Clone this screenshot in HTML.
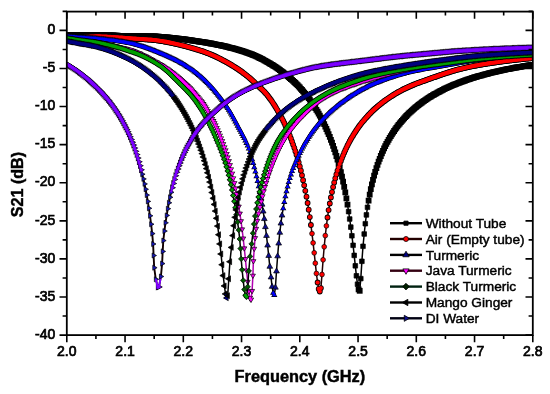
<!DOCTYPE html>
<html><head><meta charset="utf-8"><title>S21 vs Frequency</title><style>
html,body{margin:0;padding:0;background:#fff}
body{width:550px;height:394px;overflow:hidden}
svg{display:block}
text{font-family:"Liberation Sans",Arial,sans-serif;fill:#000}
.tl text{font-size:14px;stroke:#000;stroke-width:0.7}
.lg text{font-size:13.7px;stroke:#000;stroke-width:0.45}
.at{font-size:15.5px;font-weight:bold;stroke:#000;stroke-width:0.45}
</style></head><body>
<svg width="550" height="394" viewBox="0 0 550 394">
<g transform="translate(0 0.6)">
<defs><marker id="oWT" markerUnits="userSpaceOnUse" markerWidth="8" markerHeight="8" refX="4" refY="4" overflow="visible"><path d="M1.10 1.10h5.80v5.80h-5.80Z" fill="#000"/></marker>
<marker id="sWT" markerUnits="userSpaceOnUse" markerWidth="8" markerHeight="8" refX="4" refY="4" overflow="visible"><path d="M1.70 1.70h4.60v4.60h-4.60Z" fill="#000" stroke="#000" stroke-width="0.7"/></marker>
<marker id="oAIR" markerUnits="userSpaceOnUse" markerWidth="8" markerHeight="8" refX="4" refY="4" overflow="visible"><path d="M1.10 4a2.90 2.90 0 1 0 5.80 0a2.90 2.90 0 1 0 -5.80 0Z" fill="#000"/></marker>
<marker id="iAIR" markerUnits="userSpaceOnUse" markerWidth="8" markerHeight="8" refX="4" refY="4" overflow="visible"><path d="M1.90 4a2.10 2.10 0 1 0 4.20 0a2.10 2.10 0 1 0 -4.20 0Z" fill="#f00"/></marker>
<marker id="sAIR" markerUnits="userSpaceOnUse" markerWidth="8" markerHeight="8" refX="4" refY="4" overflow="visible"><path d="M1.60 4a2.40 2.40 0 1 0 4.80 0a2.40 2.40 0 1 0 -4.80 0Z" fill="#f00" stroke="#000" stroke-width="0.7"/></marker>
<marker id="oTUR" markerUnits="userSpaceOnUse" markerWidth="8" markerHeight="8" refX="4" refY="4" overflow="visible"><path d="M4.00 0.40L7.12 5.80L0.88 5.80Z" fill="#000"/></marker>
<marker id="iTUR" markerUnits="userSpaceOnUse" markerWidth="8" markerHeight="8" refX="4" refY="4" overflow="visible"><path d="M4.00 1.50L6.17 5.25L1.83 5.25Z" fill="#00f"/></marker>
<marker id="sTUR" markerUnits="userSpaceOnUse" markerWidth="8" markerHeight="8" refX="4" refY="4" overflow="visible"><path d="M4.00 0.70L6.86 5.65L1.14 5.65Z" fill="#0c0c90" stroke="#000" stroke-width="0.7"/></marker>
<marker id="oJAVA" markerUnits="userSpaceOnUse" markerWidth="8" markerHeight="8" refX="4" refY="4" overflow="visible"><path d="M4.00 7.60L0.88 2.20L7.12 2.20Z" fill="#000"/></marker>
<marker id="iJAVA" markerUnits="userSpaceOnUse" markerWidth="8" markerHeight="8" refX="4" refY="4" overflow="visible"><path d="M4.00 6.50L1.83 2.75L6.17 2.75Z" fill="#f0f"/></marker>
<marker id="sJAVA" markerUnits="userSpaceOnUse" markerWidth="8" markerHeight="8" refX="4" refY="4" overflow="visible"><path d="M4.00 6.90L1.49 2.55L6.51 2.55Z" fill="#f000f0" stroke="#000" stroke-width="0.7"/></marker>
<marker id="oBT" markerUnits="userSpaceOnUse" markerWidth="8" markerHeight="8" refX="4" refY="4" overflow="visible"><path d="M4 0.90L7.10 4L4 7.10L0.90 4Z" fill="#000"/></marker>
<marker id="iBT" markerUnits="userSpaceOnUse" markerWidth="8" markerHeight="8" refX="4" refY="4" overflow="visible"><path d="M4 1.90L6.10 4L4 6.10L1.90 4Z" fill="#00a000"/></marker>
<marker id="sBT" markerUnits="userSpaceOnUse" markerWidth="8" markerHeight="8" refX="4" refY="4" overflow="visible"><path d="M4 1.30L6.70 4L4 6.70L1.30 4Z" fill="#005a00" stroke="#000" stroke-width="0.7"/></marker>
<marker id="oMG" markerUnits="userSpaceOnUse" markerWidth="8" markerHeight="8" refX="4" refY="4" overflow="visible"><path d="M0.20 4.00L5.90 0.71L5.90 7.29Z" fill="#000"/></marker>
<marker id="iMG" markerUnits="userSpaceOnUse" markerWidth="8" markerHeight="8" refX="4" refY="4" overflow="visible"><path d="M1.40 4.00L5.30 1.75L5.30 6.25Z" fill="#000080"/></marker>
<marker id="sMG" markerUnits="userSpaceOnUse" markerWidth="8" markerHeight="8" refX="4" refY="4" overflow="visible"><path d="M0.60 4.00L5.70 1.06L5.70 6.94Z" fill="#000" stroke="#000" stroke-width="0.7"/></marker>
<marker id="oDI" markerUnits="userSpaceOnUse" markerWidth="8" markerHeight="8" refX="4" refY="4" overflow="visible"><path d="M7.90 4.00L2.05 7.38L2.05 0.62Z" fill="#000"/></marker>
<marker id="iDI" markerUnits="userSpaceOnUse" markerWidth="8" markerHeight="8" refX="4" refY="4" overflow="visible"><path d="M6.80 4.00L2.60 6.42L2.60 1.58Z" fill="#7000ff"/></marker>
<marker id="sDI" markerUnits="userSpaceOnUse" markerWidth="8" markerHeight="8" refX="4" refY="4" overflow="visible"><path d="M6.90 4.00L2.55 6.51L2.55 1.49Z" fill="#1818b8" stroke="#000" stroke-width="0.7"/></marker>
<marker id="lWT" markerUnits="userSpaceOnUse" markerWidth="8" markerHeight="8" refX="4" refY="4" overflow="visible"><path d="M1.90 1.90h4.20v4.20h-4.20Z" fill="#000" stroke="#000" stroke-width="0.8"/></marker>
<marker id="lAIR" markerUnits="userSpaceOnUse" markerWidth="8" markerHeight="8" refX="4" refY="4" overflow="visible"><path d="M1.50 4a2.50 2.50 0 1 0 5.00 0a2.50 2.50 0 1 0 -5.00 0Z" fill="#f00" stroke="#000" stroke-width="0.8"/></marker>
<marker id="lTUR" markerUnits="userSpaceOnUse" markerWidth="8" markerHeight="8" refX="4" refY="4" overflow="visible"><path d="M4.00 0.30L7.20 5.85L0.80 5.85Z" fill="#000080" stroke="#000" stroke-width="0.8"/></marker>
<marker id="lJAVA" markerUnits="userSpaceOnUse" markerWidth="8" markerHeight="8" refX="4" refY="4" overflow="visible"><path d="M4.00 7.60L0.88 2.20L7.12 2.20Z" fill="#f0f" stroke="#000" stroke-width="0.8"/></marker>
<marker id="lBT" markerUnits="userSpaceOnUse" markerWidth="8" markerHeight="8" refX="4" refY="4" overflow="visible"><path d="M4 0.70L7.30 4L4 7.30L0.70 4Z" fill="#002000" stroke="#000" stroke-width="0.8"/></marker>
<marker id="lMG" markerUnits="userSpaceOnUse" markerWidth="8" markerHeight="8" refX="4" refY="4" overflow="visible"><path d="M0.30 4.00L5.85 0.80L5.85 7.20Z" fill="#000" stroke="#000" stroke-width="0.8"/></marker>
<marker id="lDI" markerUnits="userSpaceOnUse" markerWidth="8" markerHeight="8" refX="4" refY="4" overflow="visible"><path d="M7.50 4.00L2.25 7.03L2.25 0.97Z" fill="#10108a" stroke="#000" stroke-width="0.8"/></marker>

<clipPath id="pa"><rect x="66.8" y="11.0" width="465.99999999999994" height="323.5"/></clipPath>
</defs>
<g clip-path="url(#pa)">
<polyline points="66.8,34.3 67.9,34.3 69.0,34.3 70.1,34.4 71.2,34.4 72.3,34.4 73.5,34.5 74.6,34.5 75.7,34.5 76.8,34.5 77.9,34.5 79.0,34.5 80.1,34.5 81.2,34.5 82.3,34.5 83.4,34.5 84.6,34.5 85.7,34.5 86.8,34.5 87.9,34.5 89.0,34.5 90.1,34.5 91.2,34.5 92.3,34.5 93.4,34.5 94.5,34.5 95.6,34.5 96.8,34.5 97.9,34.5 99.0,34.5 100.1,34.5 101.2,34.6 102.3,34.6 103.4,34.6 104.5,34.6 105.6,34.7 106.7,34.7 107.9,34.7 109.0,34.8 110.1,34.8 111.2,34.9 112.3,34.9 113.4,34.9 114.5,35.0 115.6,35.0 116.7,35.1 117.8,35.1 118.9,35.2 120.1,35.2 121.2,35.2 122.3,35.3 123.4,35.3 124.5,35.4 125.6,35.4 126.7,35.5 127.8,35.5 128.9,35.6 130.0,35.6 131.2,35.6 132.3,35.6 133.4,35.6 134.5,35.6 135.6,35.6 136.7,35.6 137.8,35.6 138.9,35.6 140.0,35.6 141.1,35.6 142.2,35.6 143.4,35.6 144.5,35.6 145.6,35.6 146.7,35.7 147.8,35.7 148.9,35.7 150.0,35.7 151.1,35.8 152.2,35.8 153.3,35.8 154.5,35.9 155.6,35.9 156.7,36.0 157.8,36.1 158.9,36.1 160.0,36.2 161.1,36.3 162.2,36.4 163.3,36.5 164.4,36.6 165.5,36.7 166.7,36.8 167.8,36.9 168.9,37.0 170.0,37.1 171.1,37.2 172.2,37.3 173.3,37.4 174.4,37.6 175.5,37.7 176.6,37.8 177.8,38.0 178.9,38.1 180.0,38.2 181.1,38.4 182.2,38.5 183.3,38.6 184.4,38.8 185.5,38.9 186.6,39.1 187.7,39.2 188.8,39.4 190.0,39.6 191.1,39.7 192.2,39.9 193.3,40.0 194.4,40.2 195.5,40.4 196.6,40.5 197.7,40.7 198.8,40.9 199.9,41.0 201.1,41.2 202.2,41.4 203.3,41.6 204.4,41.7 205.5,41.9 206.6,42.1 207.7,42.3 208.8,42.5 209.9,42.7 211.0,42.9 212.1,43.1 213.3,43.3 214.4,43.5 215.5,43.7 216.6,44.0 217.7,44.2 218.8,44.4 219.9,44.6 221.0,44.9 222.1,45.1 223.2,45.4 224.4,45.6 225.5,45.9 226.6,46.1 227.7,46.4 228.8,46.7 229.9,47.0 231.0,47.2 232.1,47.5 233.2,47.8 234.3,48.1 235.4,48.4 236.6,48.7 237.7,49.1 238.8,49.4 239.9,49.7 241.0,50.1 242.1,50.4 243.2,50.8 244.3,51.1 245.4,51.5 246.5,51.9 247.7,52.3 248.8,52.7 249.9,53.1 251.0,53.5 252.1,53.9 253.2,54.4 254.3,54.8 255.4,55.3 256.5,55.8 257.6,56.3 258.7,56.9 259.9,57.4 261.0,58.0 262.1,58.6 263.2,59.1 264.3,59.7 265.4,60.3 266.5,61.0 267.6,61.6 268.7,62.2 269.8,62.9 271.0,63.5 272.1,64.2 273.2,64.9 274.3,65.6 275.4,66.3 276.5,67.1 277.6,67.8 278.7,68.6 279.8,69.4 280.9,70.2 282.0,71.0 283.2,71.9 284.3,72.7 285.4,73.6 286.5,74.5 287.6,75.5 288.7,76.4 289.8,77.4 290.9,78.4 292.0,79.3 293.1,80.3 294.3,81.4 295.4,82.4 296.5,83.5 297.6,84.6 298.7,85.8 299.8,86.9 300.9,88.2 302.0,89.4 303.1,90.7 304.2,92.0 305.3,93.3 306.5,94.7 307.6,96.1 308.7,97.6 309.8,99.1 310.9,100.7 312.0,102.3 313.1,103.9 314.2,105.6 315.3,107.4 316.4,109.2 317.6,111.0 318.7,113.0 319.8,115.0 320.9,117.0 322.0,119.1 323.1,121.3 324.2,123.6 325.3,126.0 326.4,128.4 327.5,130.9 328.6,133.6 329.8,136.3 330.9,139.2 332.0,142.1 333.1,145.2 334.2,148.5 335.3,151.8 336.4,155.4 337.5,159.1 338.6,163.0 339.7,167.1 340.9,171.5 342.0,176.1 343.1,181.0 344.2,186.2 345.3,191.7 346.4,197.7 347.5,204.1 348.6,211.0 349.7,218.4 350.8,226.5 351.9,235.2 353.1,244.7 354.2,254.8 355.3,265.2 356.4,275.2 357.5,283.6 358.6,288.8 359.7,290.2 360.8,278.0 361.9,260.7 363.0,245.7 364.2,233.4 365.3,223.1 366.4,214.3 367.5,206.7 368.6,200.0 369.7,194.0 370.8,188.6 371.9,183.7 373.0,179.2 374.1,175.0 375.2,171.2 376.4,167.6 377.5,164.3 378.6,161.1 379.7,158.2 380.8,155.4 381.9,152.7 383.0,150.2 384.1,147.8 385.2,145.5 386.3,143.3 387.5,141.3 388.6,139.3 389.7,137.3 390.8,135.5 391.9,133.7 393.0,132.0 394.1,130.4 395.2,128.8 396.3,127.2 397.4,125.7 398.5,124.3 399.7,122.9 400.8,121.6 401.9,120.2 403.0,119.0 404.1,117.7 405.2,116.5 406.3,115.4 407.4,114.2 408.5,113.1 409.6,112.1 410.8,111.0 411.9,110.0 413.0,109.0 414.1,108.0 415.2,107.1 416.3,106.2 417.4,105.3 418.5,104.4 419.6,103.5 420.7,102.7 421.8,101.9 423.0,101.1 424.1,100.3 425.2,99.5 426.3,98.8 427.4,98.0 428.5,97.3 429.6,96.6 430.7,95.9 431.8,95.2 432.9,94.6 434.1,93.9 435.2,93.3 436.3,92.7 437.4,92.1 438.5,91.5 439.6,90.9 440.7,90.3 441.8,89.7 442.9,89.2 444.0,88.6 445.1,88.1 446.3,87.6 447.4,87.0 448.5,86.5 449.6,86.0 450.7,85.5 451.8,85.1 452.9,84.6 454.0,84.1 455.1,83.7 456.2,83.2 457.4,82.8 458.5,82.3 459.6,81.9 460.7,81.5 461.8,81.1 462.9,80.7 464.0,80.3 465.1,79.9 466.2,79.5 467.3,79.1 468.4,78.7 469.6,78.4 470.7,78.0 471.8,77.6 472.9,77.3 474.0,76.9 475.1,76.6 476.2,76.3 477.3,75.9 478.4,75.6 479.5,75.3 480.7,75.0 481.8,74.7 482.9,74.3 484.0,74.0 485.1,73.8 486.2,73.5 487.3,73.2 488.4,72.9 489.5,72.6 490.6,72.3 491.7,72.1 492.9,71.8 494.0,71.5 495.1,71.3 496.2,71.0 497.3,70.7 498.4,70.5 499.5,70.2 500.6,70.0 501.7,69.8 502.8,69.5 504.0,69.3 505.1,69.1 506.2,68.8 507.3,68.6 508.4,68.4 509.5,68.2 510.6,68.0 511.7,67.8 512.8,67.5 513.9,67.3 515.0,67.1 516.2,66.9 517.3,66.7 518.4,66.5 519.5,66.3 520.6,66.2 521.7,66.0 522.8,65.8 523.9,65.6 525.0,65.4 526.1,65.2 527.3,65.1 528.4,64.9 529.5,64.7 530.6,64.6 531.7,64.4 532.8,64.2" fill="none" stroke="#000" stroke-width="1.5" stroke-linejoin="round"/>
<polyline points="66.8,34.3 67.9,34.3 69.0,34.3 70.1,34.4 71.2,34.4 72.3,34.4 73.5,34.5 74.6,34.5 75.7,34.5 76.8,34.5 77.9,34.5 79.0,34.5 80.1,34.5 81.2,34.5 82.3,34.5 83.4,34.5 84.6,34.5 85.7,34.5 86.8,34.5 87.9,34.5 89.0,34.5 90.1,34.5 91.2,34.5 92.3,34.5 93.4,34.5 94.5,34.5 95.6,34.5 96.8,34.5 97.9,34.5 99.0,34.5 100.1,34.5 101.2,34.6 102.3,34.6 103.4,34.6 104.5,34.6 105.6,34.7 106.7,34.7 107.9,34.7 109.0,34.8 110.1,34.8 111.2,34.9 112.3,34.9 113.4,34.9 114.5,35.0 115.6,35.0 116.7,35.1 117.8,35.1 118.9,35.2 120.1,35.2 121.2,35.2 122.3,35.3 123.4,35.3 124.5,35.4 125.6,35.4 126.7,35.5 127.8,35.5 128.9,35.6 130.0,35.6 131.2,35.6 132.3,35.6 133.4,35.6 134.5,35.6 135.6,35.6 136.7,35.6 137.8,35.6 138.9,35.6 140.0,35.6 141.1,35.6 142.2,35.6 143.4,35.6 144.5,35.6 145.6,35.6 146.7,35.7 147.8,35.7 148.9,35.7 150.0,35.7 151.1,35.8 152.2,35.8 153.3,35.8 154.5,35.9 155.6,35.9 156.7,36.0 157.8,36.1 158.9,36.1 160.0,36.2 161.1,36.3 162.2,36.4 163.3,36.5 164.4,36.6 165.5,36.7 166.7,36.8 167.8,36.9 168.9,37.0 170.0,37.1 171.1,37.2 172.2,37.3 173.3,37.4 174.4,37.6 175.5,37.7 176.6,37.8 177.8,38.0 178.9,38.1 180.0,38.2 181.1,38.4 182.2,38.5 183.3,38.6 184.4,38.8 185.5,38.9 186.6,39.1 187.7,39.2 188.8,39.4 190.0,39.6 191.1,39.7 192.2,39.9 193.3,40.0 194.4,40.2 195.5,40.4 196.6,40.5 197.7,40.7 198.8,40.9 199.9,41.0 201.1,41.2 202.2,41.4 203.3,41.6 204.4,41.7 205.5,41.9 206.6,42.1 207.7,42.3 208.8,42.5 209.9,42.7 211.0,42.9 212.1,43.1 213.3,43.3 214.4,43.5 215.5,43.7 216.6,44.0 217.7,44.2 218.8,44.4 219.9,44.6 221.0,44.9 222.1,45.1 223.2,45.4 224.4,45.6 225.5,45.9 226.6,46.1 227.7,46.4 228.8,46.7 229.9,47.0 231.0,47.2 232.1,47.5 233.2,47.8 234.3,48.1 235.4,48.4 236.6,48.7 237.7,49.1 238.8,49.4 239.9,49.7 241.0,50.1 242.1,50.4 243.2,50.8 244.3,51.1 245.4,51.5 246.5,51.9 247.7,52.3 248.8,52.7 249.9,53.1 251.0,53.5 252.1,53.9 253.2,54.4 254.3,54.8 255.4,55.3 256.5,55.8 257.6,56.3 258.7,56.9 259.9,57.4 261.0,58.0 262.1,58.6 263.2,59.1 264.3,59.7 265.4,60.3 266.5,61.0 267.6,61.6 268.7,62.2 269.8,62.9 271.0,63.5 272.1,64.2 273.2,64.9 274.3,65.6 275.4,66.3 276.5,67.1 277.6,67.8 278.7,68.6 279.8,69.4 280.9,70.2 282.0,71.0 283.2,71.9 284.3,72.7 285.4,73.6 286.5,74.5 287.6,75.5 288.7,76.4 289.8,77.4 290.9,78.4 292.0,79.3 293.1,80.3 294.3,81.4 295.4,82.4 296.5,83.5 297.6,84.6 298.7,85.8 299.8,86.9 300.9,88.2 302.0,89.4 303.1,90.7 304.2,92.0 305.3,93.3 306.5,94.7 307.6,96.1 308.7,97.6 309.8,99.1 310.9,100.7 312.0,102.3 313.1,103.9 314.2,105.6 315.3,107.4 316.4,109.2 317.6,111.0 318.7,113.0 319.8,115.0 320.9,117.0 322.0,119.1 323.1,121.3 324.2,123.6 325.3,126.0 326.4,128.4 327.5,130.9 328.6,133.6 329.8,136.3 330.9,139.2 332.0,142.1 333.1,145.2 334.2,148.5 335.3,151.8 336.4,155.4 337.5,159.1 338.6,163.0 339.7,167.1 340.9,171.5 342.0,176.1 343.1,181.0 344.2,186.2 345.3,191.7 346.4,197.7 347.5,204.1" fill="none" stroke="none" marker-start="url(#oWT)" marker-mid="url(#oWT)" marker-end="url(#oWT)"/>
<polyline points="348.6,211.0 349.7,218.4 350.8,226.5 351.9,235.2 353.1,244.7 354.2,254.8 355.3,265.2 356.4,275.2 357.5,283.6" fill="none" stroke="none" marker-start="url(#sWT)" marker-mid="url(#sWT)" marker-end="url(#sWT)"/>
<polyline points="358.6,288.8 359.7,290.2" fill="none" stroke="none" marker-start="url(#oWT)" marker-mid="url(#oWT)" marker-end="url(#oWT)"/>
<polyline points="360.8,278.0 361.9,260.7 363.0,245.7 364.2,233.4 365.3,223.1 366.4,214.3 367.5,206.7" fill="none" stroke="none" marker-start="url(#sWT)" marker-mid="url(#sWT)" marker-end="url(#sWT)"/>
<polyline points="368.6,200.0 369.7,194.0 370.8,188.6 371.9,183.7 373.0,179.2 374.1,175.0 375.2,171.2 376.4,167.6 377.5,164.3 378.6,161.1 379.7,158.2 380.8,155.4 381.9,152.7 383.0,150.2 384.1,147.8 385.2,145.5 386.3,143.3 387.5,141.3 388.6,139.3 389.7,137.3 390.8,135.5 391.9,133.7 393.0,132.0 394.1,130.4 395.2,128.8 396.3,127.2 397.4,125.7 398.5,124.3 399.7,122.9 400.8,121.6 401.9,120.2 403.0,119.0 404.1,117.7 405.2,116.5 406.3,115.4 407.4,114.2 408.5,113.1 409.6,112.1 410.8,111.0 411.9,110.0 413.0,109.0 414.1,108.0 415.2,107.1 416.3,106.2 417.4,105.3 418.5,104.4 419.6,103.5 420.7,102.7 421.8,101.9 423.0,101.1 424.1,100.3 425.2,99.5 426.3,98.8 427.4,98.0 428.5,97.3 429.6,96.6 430.7,95.9 431.8,95.2 432.9,94.6 434.1,93.9 435.2,93.3 436.3,92.7 437.4,92.1 438.5,91.5 439.6,90.9 440.7,90.3 441.8,89.7 442.9,89.2 444.0,88.6 445.1,88.1 446.3,87.6 447.4,87.0 448.5,86.5 449.6,86.0 450.7,85.5 451.8,85.1 452.9,84.6 454.0,84.1 455.1,83.7 456.2,83.2 457.4,82.8 458.5,82.3 459.6,81.9 460.7,81.5 461.8,81.1 462.9,80.7 464.0,80.3 465.1,79.9 466.2,79.5 467.3,79.1 468.4,78.7 469.6,78.4 470.7,78.0 471.8,77.6 472.9,77.3 474.0,76.9 475.1,76.6 476.2,76.3 477.3,75.9 478.4,75.6 479.5,75.3 480.7,75.0 481.8,74.7 482.9,74.3 484.0,74.0 485.1,73.8 486.2,73.5 487.3,73.2 488.4,72.9 489.5,72.6 490.6,72.3 491.7,72.1 492.9,71.8 494.0,71.5 495.1,71.3 496.2,71.0 497.3,70.7 498.4,70.5 499.5,70.2 500.6,70.0 501.7,69.8 502.8,69.5 504.0,69.3 505.1,69.1 506.2,68.8 507.3,68.6 508.4,68.4 509.5,68.2 510.6,68.0 511.7,67.8 512.8,67.5 513.9,67.3 515.0,67.1 516.2,66.9 517.3,66.7 518.4,66.5 519.5,66.3 520.6,66.2 521.7,66.0 522.8,65.8 523.9,65.6 525.0,65.4 526.1,65.2 527.3,65.1 528.4,64.9 529.5,64.7 530.6,64.6 531.7,64.4 532.8,64.2" fill="none" stroke="none" marker-start="url(#oWT)" marker-mid="url(#oWT)" marker-end="url(#oWT)"/>
<polyline points="66.8,36.1 67.9,36.2 69.0,36.2 70.1,36.2 71.2,36.3 72.3,36.3 73.5,36.3 74.6,36.4 75.7,36.4 76.8,36.4 77.9,36.4 79.0,36.4 80.1,36.4 81.2,36.4 82.3,36.4 83.4,36.4 84.6,36.3 85.7,36.3 86.8,36.3 87.9,36.2 89.0,36.2 90.1,36.1 91.2,36.1 92.3,36.0 93.4,35.9 94.5,35.9 95.6,35.8 96.8,35.8 97.9,35.8 99.0,35.8 100.1,35.8 101.2,35.9 102.3,35.9 103.4,36.0 104.5,36.0 105.6,36.1 106.7,36.1 107.9,36.2 109.0,36.3 110.1,36.3 111.2,36.4 112.3,36.4 113.4,36.5 114.5,36.6 115.6,36.7 116.7,36.7 117.8,36.8 118.9,36.9 120.1,37.0 121.2,37.0 122.3,37.1 123.4,37.2 124.5,37.3 125.6,37.4 126.7,37.5 127.8,37.5 128.9,37.6 130.0,37.7 131.2,37.8 132.3,37.9 133.4,38.0 134.5,38.1 135.6,38.1 136.7,38.2 137.8,38.3 138.9,38.3 140.0,38.4 141.1,38.5 142.2,38.5 143.4,38.6 144.5,38.7 145.6,38.7 146.7,38.8 147.8,38.9 148.9,39.0 150.0,39.1 151.1,39.1 152.2,39.2 153.3,39.4 154.5,39.5 155.6,39.6 156.7,39.7 157.8,39.9 158.9,40.0 160.0,40.2 161.1,40.4 162.2,40.5 163.3,40.7 164.4,40.9 165.5,41.1 166.7,41.3 167.8,41.5 168.9,41.8 170.0,42.0 171.1,42.2 172.2,42.4 173.3,42.7 174.4,42.9 175.5,43.2 176.6,43.4 177.8,43.7 178.9,43.9 180.0,44.2 181.1,44.5 182.2,44.8 183.3,45.0 184.4,45.3 185.5,45.6 186.6,45.9 187.7,46.2 188.8,46.5 190.0,46.8 191.1,47.2 192.2,47.5 193.3,47.8 194.4,48.1 195.5,48.5 196.6,48.8 197.7,49.1 198.8,49.5 199.9,49.8 201.1,50.2 202.2,50.6 203.3,50.9 204.4,51.3 205.5,51.7 206.6,52.2 207.7,52.6 208.8,53.0 209.9,53.5 211.0,53.9 212.1,54.4 213.3,54.9 214.4,55.4 215.5,55.9 216.6,56.4 217.7,57.0 218.8,57.5 219.9,58.0 221.0,58.6 222.1,59.2 223.2,59.8 224.4,60.4 225.5,61.0 226.6,61.6 227.7,62.2 228.8,62.8 229.9,63.5 231.0,64.1 232.1,64.8 233.2,65.5 234.3,66.2 235.4,66.9 236.6,67.6 237.7,68.3 238.8,69.1 239.9,69.8 241.0,70.6 242.1,71.4 243.2,72.3 244.3,73.1 245.4,74.0 246.5,74.8 247.7,75.7 248.8,76.7 249.9,77.6 251.0,78.6 252.1,79.6 253.2,80.6 254.3,81.6 255.4,82.7 256.5,83.8 257.6,84.8 258.7,85.8 259.9,86.8 261.0,87.8 262.1,88.9 263.2,90.0 264.3,91.1 265.4,92.3 266.5,93.5 267.6,94.9 268.7,96.4 269.8,97.9 271.0,99.4 272.1,101.0 273.2,102.7 274.3,104.4 275.4,106.1 276.5,108.0 277.6,109.8 278.7,111.8 279.8,113.7 280.9,115.8 282.0,117.9 283.2,120.1 284.3,122.4 285.4,124.8 286.5,127.2 287.6,129.7 288.7,132.4 289.8,135.1 290.9,137.9 292.0,140.9 293.1,144.0 294.3,147.2 295.4,150.6 296.5,154.1 297.6,157.8 298.7,161.7 299.8,165.8 300.9,170.1 302.0,174.7 303.1,179.6 304.2,184.7 305.3,190.2 306.5,196.1 307.6,202.4 308.7,209.1 309.8,216.5 310.9,224.4 312.0,233.0 313.1,242.3 314.2,252.2 315.3,262.6 316.4,272.9 317.6,281.9 318.7,288.3 319.8,290.9 320.9,287.5 322.0,273.9 323.1,259.2 324.2,246.2 325.3,235.0 326.4,225.3 327.5,216.9 328.6,209.5 329.8,202.9 330.9,196.9 332.0,191.5 333.1,186.5 334.2,182.0 335.3,177.7 336.4,173.8 337.5,170.1 338.6,166.7 339.7,163.4 340.9,160.3 342.0,157.4 343.1,154.7 344.2,152.1 345.3,149.6 346.4,147.2 347.5,144.9 348.6,142.7 349.7,140.6 350.8,138.6 351.9,136.7 353.1,134.8 354.2,133.0 355.3,131.3 356.4,129.6 357.5,128.0 358.6,126.4 359.7,124.9 360.8,123.5 361.9,122.0 363.0,120.7 364.2,119.3 365.3,118.0 366.4,116.8 367.5,115.6 368.6,114.4 369.7,113.2 370.8,112.1 371.9,111.0 373.0,109.9 374.1,108.9 375.2,107.9 376.4,106.9 377.5,105.9 378.6,105.0 379.7,104.1 380.8,103.2 381.9,102.3 383.0,101.5 384.1,100.6 385.2,99.8 386.3,99.0 387.5,98.2 388.6,97.5 389.7,96.7 390.8,96.0 391.9,95.3 393.0,94.6 394.1,93.9 395.2,93.2 396.3,92.6 397.4,91.9 398.5,91.3 399.7,90.7 400.8,90.1 401.9,89.5 403.0,88.9 404.1,88.4 405.2,87.8 406.3,87.3 407.4,86.8 408.5,86.3 409.6,85.8 410.8,85.3 411.9,84.8 413.0,84.4 414.1,83.9 415.2,83.5 416.3,83.0 417.4,82.6 418.5,82.2 419.6,81.8 420.7,81.4 421.8,81.0 423.0,80.6 424.1,80.2 425.2,79.8 426.3,79.4 427.4,79.0 428.5,78.6 429.6,78.2 430.7,77.8 431.8,77.4 432.9,77.0 434.1,76.6 435.2,76.3 436.3,75.9 437.4,75.5 438.5,75.1 439.6,74.7 440.7,74.3 441.8,74.0 442.9,73.6 444.0,73.2 445.1,72.8 446.3,72.5 447.4,72.1 448.5,71.8 449.6,71.4 450.7,71.1 451.8,70.7 452.9,70.4 454.0,70.1 455.1,69.7 456.2,69.4 457.4,69.1 458.5,68.8 459.6,68.5 460.7,68.3 461.8,68.0 462.9,67.7 464.0,67.5 465.1,67.2 466.2,66.9 467.3,66.7 468.4,66.4 469.6,66.2 470.7,66.0 471.8,65.7 472.9,65.5 474.0,65.3 475.1,65.1 476.2,64.9 477.3,64.7 478.4,64.5 479.5,64.3 480.7,64.1 481.8,63.9 482.9,63.7 484.0,63.5 485.1,63.4 486.2,63.2 487.3,63.0 488.4,62.8 489.5,62.7 490.6,62.5 491.7,62.3 492.9,62.2 494.0,62.0 495.1,61.9 496.2,61.7 497.3,61.5 498.4,61.4 499.5,61.2 500.6,61.1 501.7,60.9 502.8,60.8 504.0,60.6 505.1,60.5 506.2,60.4 507.3,60.2 508.4,60.1 509.5,59.9 510.6,59.8 511.7,59.7 512.8,59.5 513.9,59.4 515.0,59.3 516.2,59.2 517.3,59.0 518.4,58.9 519.5,58.8 520.6,58.7 521.7,58.6 522.8,58.4 523.9,58.3 525.0,58.2 526.1,58.1 527.3,58.0 528.4,57.9 529.5,57.8 530.6,57.7 531.7,57.6 532.8,57.5" fill="none" stroke="#200" stroke-width="1.5" stroke-linejoin="round"/>
<polyline points="66.8,36.1 67.9,36.2 69.0,36.2 70.1,36.2 71.2,36.3 72.3,36.3 73.5,36.3 74.6,36.4 75.7,36.4 76.8,36.4 77.9,36.4 79.0,36.4 80.1,36.4 81.2,36.4 82.3,36.4 83.4,36.4 84.6,36.3 85.7,36.3 86.8,36.3 87.9,36.2 89.0,36.2 90.1,36.1 91.2,36.1 92.3,36.0 93.4,35.9 94.5,35.9 95.6,35.8 96.8,35.8 97.9,35.8 99.0,35.8 100.1,35.8 101.2,35.9 102.3,35.9 103.4,36.0 104.5,36.0 105.6,36.1 106.7,36.1 107.9,36.2 109.0,36.3 110.1,36.3 111.2,36.4 112.3,36.4 113.4,36.5 114.5,36.6 115.6,36.7 116.7,36.7 117.8,36.8 118.9,36.9 120.1,37.0 121.2,37.0 122.3,37.1 123.4,37.2 124.5,37.3 125.6,37.4 126.7,37.5 127.8,37.5 128.9,37.6 130.0,37.7 131.2,37.8 132.3,37.9 133.4,38.0 134.5,38.1 135.6,38.1 136.7,38.2 137.8,38.3 138.9,38.3 140.0,38.4 141.1,38.5 142.2,38.5 143.4,38.6 144.5,38.7 145.6,38.7 146.7,38.8 147.8,38.9 148.9,39.0 150.0,39.1 151.1,39.1 152.2,39.2 153.3,39.4 154.5,39.5 155.6,39.6 156.7,39.7 157.8,39.9 158.9,40.0 160.0,40.2 161.1,40.4 162.2,40.5 163.3,40.7 164.4,40.9 165.5,41.1 166.7,41.3 167.8,41.5 168.9,41.8 170.0,42.0 171.1,42.2 172.2,42.4 173.3,42.7 174.4,42.9 175.5,43.2 176.6,43.4 177.8,43.7 178.9,43.9 180.0,44.2 181.1,44.5 182.2,44.8 183.3,45.0 184.4,45.3 185.5,45.6 186.6,45.9 187.7,46.2 188.8,46.5 190.0,46.8 191.1,47.2 192.2,47.5 193.3,47.8 194.4,48.1 195.5,48.5 196.6,48.8 197.7,49.1 198.8,49.5 199.9,49.8 201.1,50.2 202.2,50.6 203.3,50.9 204.4,51.3 205.5,51.7 206.6,52.2 207.7,52.6 208.8,53.0 209.9,53.5 211.0,53.9 212.1,54.4 213.3,54.9 214.4,55.4 215.5,55.9 216.6,56.4 217.7,57.0 218.8,57.5 219.9,58.0 221.0,58.6 222.1,59.2 223.2,59.8 224.4,60.4 225.5,61.0 226.6,61.6 227.7,62.2 228.8,62.8 229.9,63.5 231.0,64.1 232.1,64.8 233.2,65.5 234.3,66.2 235.4,66.9 236.6,67.6 237.7,68.3 238.8,69.1 239.9,69.8 241.0,70.6 242.1,71.4 243.2,72.3 244.3,73.1 245.4,74.0 246.5,74.8 247.7,75.7 248.8,76.7 249.9,77.6 251.0,78.6 252.1,79.6 253.2,80.6 254.3,81.6 255.4,82.7 256.5,83.8 257.6,84.8 258.7,85.8 259.9,86.8 261.0,87.8 262.1,88.9 263.2,90.0 264.3,91.1 265.4,92.3 266.5,93.5 267.6,94.9 268.7,96.4 269.8,97.9 271.0,99.4 272.1,101.0 273.2,102.7 274.3,104.4 275.4,106.1 276.5,108.0 277.6,109.8 278.7,111.8 279.8,113.7 280.9,115.8 282.0,117.9 283.2,120.1 284.3,122.4 285.4,124.8 286.5,127.2 287.6,129.7 288.7,132.4 289.8,135.1 290.9,137.9 292.0,140.9 293.1,144.0 294.3,147.2 295.4,150.6 296.5,154.1 297.6,157.8 298.7,161.7 299.8,165.8 300.9,170.1 302.0,174.7 303.1,179.6 304.2,184.7 305.3,190.2 306.5,196.1 307.6,202.4 308.7,209.1 309.8,216.5 310.9,224.4" fill="none" stroke="none" marker-start="url(#oAIR)" marker-mid="url(#oAIR)" marker-end="url(#oAIR)"/>
<polyline points="66.8,36.1 67.9,36.2 69.0,36.2 70.1,36.2 71.2,36.3 72.3,36.3 73.5,36.3 74.6,36.4 75.7,36.4 76.8,36.4 77.9,36.4 79.0,36.4 80.1,36.4 81.2,36.4 82.3,36.4 83.4,36.4 84.6,36.3 85.7,36.3 86.8,36.3 87.9,36.2 89.0,36.2 90.1,36.1 91.2,36.1 92.3,36.0 93.4,35.9 94.5,35.9 95.6,35.8 96.8,35.8 97.9,35.8 99.0,35.8 100.1,35.8 101.2,35.9 102.3,35.9 103.4,36.0 104.5,36.0 105.6,36.1 106.7,36.1 107.9,36.2 109.0,36.3 110.1,36.3 111.2,36.4 112.3,36.4 113.4,36.5 114.5,36.6 115.6,36.7 116.7,36.7 117.8,36.8 118.9,36.9 120.1,37.0 121.2,37.0 122.3,37.1 123.4,37.2 124.5,37.3 125.6,37.4 126.7,37.5 127.8,37.5 128.9,37.6 130.0,37.7 131.2,37.8 132.3,37.9 133.4,38.0 134.5,38.1 135.6,38.1 136.7,38.2 137.8,38.3 138.9,38.3 140.0,38.4 141.1,38.5 142.2,38.5 143.4,38.6 144.5,38.7 145.6,38.7 146.7,38.8 147.8,38.9 148.9,39.0 150.0,39.1 151.1,39.1 152.2,39.2 153.3,39.4 154.5,39.5 155.6,39.6 156.7,39.7 157.8,39.9 158.9,40.0 160.0,40.2 161.1,40.4 162.2,40.5 163.3,40.7 164.4,40.9 165.5,41.1 166.7,41.3 167.8,41.5 168.9,41.8 170.0,42.0 171.1,42.2 172.2,42.4 173.3,42.7 174.4,42.9 175.5,43.2 176.6,43.4 177.8,43.7 178.9,43.9 180.0,44.2 181.1,44.5 182.2,44.8 183.3,45.0 184.4,45.3 185.5,45.6 186.6,45.9 187.7,46.2 188.8,46.5 190.0,46.8 191.1,47.2 192.2,47.5 193.3,47.8 194.4,48.1 195.5,48.5 196.6,48.8 197.7,49.1 198.8,49.5 199.9,49.8 201.1,50.2 202.2,50.6 203.3,50.9 204.4,51.3 205.5,51.7 206.6,52.2 207.7,52.6 208.8,53.0 209.9,53.5 211.0,53.9 212.1,54.4 213.3,54.9 214.4,55.4 215.5,55.9 216.6,56.4 217.7,57.0 218.8,57.5 219.9,58.0 221.0,58.6 222.1,59.2 223.2,59.8 224.4,60.4 225.5,61.0 226.6,61.6 227.7,62.2 228.8,62.8 229.9,63.5 231.0,64.1 232.1,64.8 233.2,65.5 234.3,66.2 235.4,66.9 236.6,67.6 237.7,68.3 238.8,69.1 239.9,69.8 241.0,70.6 242.1,71.4 243.2,72.3 244.3,73.1 245.4,74.0 246.5,74.8 247.7,75.7 248.8,76.7 249.9,77.6 251.0,78.6 252.1,79.6 253.2,80.6 254.3,81.6 255.4,82.7 256.5,83.8 257.6,84.8 258.7,85.8 259.9,86.8 261.0,87.8 262.1,88.9 263.2,90.0 264.3,91.1 265.4,92.3 266.5,93.5 267.6,94.9 268.7,96.4 269.8,97.9 271.0,99.4 272.1,101.0 273.2,102.7 274.3,104.4 275.4,106.1 276.5,108.0 277.6,109.8 278.7,111.8 279.8,113.7 280.9,115.8 282.0,117.9 283.2,120.1 284.3,122.4 285.4,124.8 286.5,127.2 287.6,129.7 288.7,132.4 289.8,135.1 290.9,137.9 292.0,140.9 293.1,144.0 294.3,147.2 295.4,150.6 296.5,154.1 297.6,157.8 298.7,161.7 299.8,165.8 300.9,170.1 302.0,174.7 303.1,179.6 304.2,184.7 305.3,190.2 306.5,196.1 307.6,202.4 308.7,209.1 309.8,216.5 310.9,224.4" fill="none" stroke="none" marker-start="url(#iAIR)" marker-mid="url(#iAIR)" marker-end="url(#iAIR)"/>
<polyline points="312.0,233.0 313.1,242.3 314.2,252.2 315.3,262.6 316.4,272.9" fill="none" stroke="none" marker-start="url(#sAIR)" marker-mid="url(#sAIR)" marker-end="url(#sAIR)"/>
<polyline points="317.6,281.9 318.7,288.3 319.8,290.9 320.9,287.5" fill="none" stroke="none" marker-start="url(#oAIR)" marker-mid="url(#oAIR)" marker-end="url(#oAIR)"/>
<polyline points="317.6,281.9 318.7,288.3 319.8,290.9 320.9,287.5" fill="none" stroke="none" marker-start="url(#iAIR)" marker-mid="url(#iAIR)" marker-end="url(#iAIR)"/>
<polyline points="322.0,273.9 323.1,259.2 324.2,246.2 325.3,235.0 326.4,225.3" fill="none" stroke="none" marker-start="url(#sAIR)" marker-mid="url(#sAIR)" marker-end="url(#sAIR)"/>
<polyline points="327.5,216.9 328.6,209.5 329.8,202.9 330.9,196.9 332.0,191.5 333.1,186.5 334.2,182.0 335.3,177.7 336.4,173.8 337.5,170.1 338.6,166.7 339.7,163.4 340.9,160.3 342.0,157.4 343.1,154.7 344.2,152.1 345.3,149.6 346.4,147.2 347.5,144.9 348.6,142.7 349.7,140.6 350.8,138.6 351.9,136.7 353.1,134.8 354.2,133.0 355.3,131.3 356.4,129.6 357.5,128.0 358.6,126.4 359.7,124.9 360.8,123.5 361.9,122.0 363.0,120.7 364.2,119.3 365.3,118.0 366.4,116.8 367.5,115.6 368.6,114.4 369.7,113.2 370.8,112.1 371.9,111.0 373.0,109.9 374.1,108.9 375.2,107.9 376.4,106.9 377.5,105.9 378.6,105.0 379.7,104.1 380.8,103.2 381.9,102.3 383.0,101.5 384.1,100.6 385.2,99.8 386.3,99.0 387.5,98.2 388.6,97.5 389.7,96.7 390.8,96.0 391.9,95.3 393.0,94.6 394.1,93.9 395.2,93.2 396.3,92.6 397.4,91.9 398.5,91.3 399.7,90.7 400.8,90.1 401.9,89.5 403.0,88.9 404.1,88.4 405.2,87.8 406.3,87.3 407.4,86.8 408.5,86.3 409.6,85.8 410.8,85.3 411.9,84.8 413.0,84.4 414.1,83.9 415.2,83.5 416.3,83.0 417.4,82.6 418.5,82.2 419.6,81.8 420.7,81.4 421.8,81.0 423.0,80.6 424.1,80.2 425.2,79.8 426.3,79.4 427.4,79.0 428.5,78.6 429.6,78.2 430.7,77.8 431.8,77.4 432.9,77.0 434.1,76.6 435.2,76.3 436.3,75.9 437.4,75.5 438.5,75.1 439.6,74.7 440.7,74.3 441.8,74.0 442.9,73.6 444.0,73.2 445.1,72.8 446.3,72.5 447.4,72.1 448.5,71.8 449.6,71.4 450.7,71.1 451.8,70.7 452.9,70.4 454.0,70.1 455.1,69.7 456.2,69.4 457.4,69.1 458.5,68.8 459.6,68.5 460.7,68.3 461.8,68.0 462.9,67.7 464.0,67.5 465.1,67.2 466.2,66.9 467.3,66.7 468.4,66.4 469.6,66.2 470.7,66.0 471.8,65.7 472.9,65.5 474.0,65.3 475.1,65.1 476.2,64.9 477.3,64.7 478.4,64.5 479.5,64.3 480.7,64.1 481.8,63.9 482.9,63.7 484.0,63.5 485.1,63.4 486.2,63.2 487.3,63.0 488.4,62.8 489.5,62.7 490.6,62.5 491.7,62.3 492.9,62.2 494.0,62.0 495.1,61.9 496.2,61.7 497.3,61.5 498.4,61.4 499.5,61.2 500.6,61.1 501.7,60.9 502.8,60.8 504.0,60.6 505.1,60.5 506.2,60.4 507.3,60.2 508.4,60.1 509.5,59.9 510.6,59.8 511.7,59.7 512.8,59.5 513.9,59.4 515.0,59.3 516.2,59.2 517.3,59.0 518.4,58.9 519.5,58.8 520.6,58.7 521.7,58.6 522.8,58.4 523.9,58.3 525.0,58.2 526.1,58.1 527.3,58.0 528.4,57.9 529.5,57.8 530.6,57.7 531.7,57.6 532.8,57.5" fill="none" stroke="none" marker-start="url(#oAIR)" marker-mid="url(#oAIR)" marker-end="url(#oAIR)"/>
<polyline points="327.5,216.9 328.6,209.5 329.8,202.9 330.9,196.9 332.0,191.5 333.1,186.5 334.2,182.0 335.3,177.7 336.4,173.8 337.5,170.1 338.6,166.7 339.7,163.4 340.9,160.3 342.0,157.4 343.1,154.7 344.2,152.1 345.3,149.6 346.4,147.2 347.5,144.9 348.6,142.7 349.7,140.6 350.8,138.6 351.9,136.7 353.1,134.8 354.2,133.0 355.3,131.3 356.4,129.6 357.5,128.0 358.6,126.4 359.7,124.9 360.8,123.5 361.9,122.0 363.0,120.7 364.2,119.3 365.3,118.0 366.4,116.8 367.5,115.6 368.6,114.4 369.7,113.2 370.8,112.1 371.9,111.0 373.0,109.9 374.1,108.9 375.2,107.9 376.4,106.9 377.5,105.9 378.6,105.0 379.7,104.1 380.8,103.2 381.9,102.3 383.0,101.5 384.1,100.6 385.2,99.8 386.3,99.0 387.5,98.2 388.6,97.5 389.7,96.7 390.8,96.0 391.9,95.3 393.0,94.6 394.1,93.9 395.2,93.2 396.3,92.6 397.4,91.9 398.5,91.3 399.7,90.7 400.8,90.1 401.9,89.5 403.0,88.9 404.1,88.4 405.2,87.8 406.3,87.3 407.4,86.8 408.5,86.3 409.6,85.8 410.8,85.3 411.9,84.8 413.0,84.4 414.1,83.9 415.2,83.5 416.3,83.0 417.4,82.6 418.5,82.2 419.6,81.8 420.7,81.4 421.8,81.0 423.0,80.6 424.1,80.2 425.2,79.8 426.3,79.4 427.4,79.0 428.5,78.6 429.6,78.2 430.7,77.8 431.8,77.4 432.9,77.0 434.1,76.6 435.2,76.3 436.3,75.9 437.4,75.5 438.5,75.1 439.6,74.7 440.7,74.3 441.8,74.0 442.9,73.6 444.0,73.2 445.1,72.8 446.3,72.5 447.4,72.1 448.5,71.8 449.6,71.4 450.7,71.1 451.8,70.7 452.9,70.4 454.0,70.1 455.1,69.7 456.2,69.4 457.4,69.1 458.5,68.8 459.6,68.5 460.7,68.3 461.8,68.0 462.9,67.7 464.0,67.5 465.1,67.2 466.2,66.9 467.3,66.7 468.4,66.4 469.6,66.2 470.7,66.0 471.8,65.7 472.9,65.5 474.0,65.3 475.1,65.1 476.2,64.9 477.3,64.7 478.4,64.5 479.5,64.3 480.7,64.1 481.8,63.9 482.9,63.7 484.0,63.5 485.1,63.4 486.2,63.2 487.3,63.0 488.4,62.8 489.5,62.7 490.6,62.5 491.7,62.3 492.9,62.2 494.0,62.0 495.1,61.9 496.2,61.7 497.3,61.5 498.4,61.4 499.5,61.2 500.6,61.1 501.7,60.9 502.8,60.8 504.0,60.6 505.1,60.5 506.2,60.4 507.3,60.2 508.4,60.1 509.5,59.9 510.6,59.8 511.7,59.7 512.8,59.5 513.9,59.4 515.0,59.3 516.2,59.2 517.3,59.0 518.4,58.9 519.5,58.8 520.6,58.7 521.7,58.6 522.8,58.4 523.9,58.3 525.0,58.2 526.1,58.1 527.3,58.0 528.4,57.9 529.5,57.8 530.6,57.7 531.7,57.6 532.8,57.5" fill="none" stroke="none" marker-start="url(#iAIR)" marker-mid="url(#iAIR)" marker-end="url(#iAIR)"/>
<polyline points="66.8,35.8 67.9,35.9 69.0,36.0 70.1,36.1 71.2,36.2 72.3,36.3 73.5,36.4 74.6,36.5 75.7,36.6 76.8,36.7 77.9,36.8 79.0,36.8 80.1,36.9 81.2,37.0 82.3,37.1 83.4,37.2 84.6,37.2 85.7,37.3 86.8,37.4 87.9,37.5 89.0,37.5 90.1,37.6 91.2,37.7 92.3,37.8 93.4,37.9 94.5,38.0 95.6,38.0 96.8,38.1 97.9,38.2 99.0,38.3 100.1,38.5 101.2,38.6 102.3,38.7 103.4,38.8 104.5,38.9 105.6,39.1 106.7,39.2 107.9,39.3 109.0,39.4 110.1,39.6 111.2,39.7 112.3,39.8 113.4,40.0 114.5,40.1 115.6,40.3 116.7,40.4 117.8,40.6 118.9,40.8 120.1,40.9 121.2,41.1 122.3,41.3 123.4,41.5 124.5,41.7 125.6,41.9 126.7,42.1 127.8,42.3 128.9,42.5 130.0,42.7 131.2,42.9 132.3,43.2 133.4,43.4 134.5,43.7 135.6,44.0 136.7,44.3 137.8,44.6 138.9,44.9 140.0,45.3 141.1,45.6 142.2,45.9 143.4,46.3 144.5,46.7 145.6,47.0 146.7,47.4 147.8,47.8 148.9,48.2 150.0,48.5 151.1,49.0 152.2,49.4 153.3,49.9 154.5,50.3 155.6,50.8 156.7,51.2 157.8,51.7 158.9,52.1 160.0,52.6 161.1,53.0 162.2,53.5 163.3,53.9 164.4,54.4 165.5,54.9 166.7,55.3 167.8,55.8 168.9,56.3 170.0,56.8 171.1,57.3 172.2,57.9 173.3,58.4 174.4,58.9 175.5,59.5 176.6,60.1 177.8,60.6 178.9,61.2 180.0,61.8 181.1,62.5 182.2,63.1 183.3,63.7 184.4,64.4 185.5,65.1 186.6,65.8 187.7,66.5 188.8,67.2 190.0,67.9 191.1,68.7 192.2,69.4 193.3,70.2 194.4,71.0 195.5,71.9 196.6,72.7 197.7,73.6 198.8,74.5 199.9,75.4 201.1,76.4 202.2,77.4 203.3,78.4 204.4,79.4 205.5,80.5 206.6,81.6 207.7,82.7 208.8,83.9 209.9,85.0 211.0,86.2 212.1,87.5 213.3,88.7 214.4,90.0 215.5,91.3 216.6,92.6 217.7,94.0 218.8,95.4 219.9,96.8 221.0,98.2 222.1,99.7 223.2,101.2 224.4,102.7 225.5,104.3 226.6,106.0 227.7,107.7 228.8,109.4 229.9,111.2 231.0,113.0 232.1,114.9 233.2,116.9 234.3,118.9 235.4,121.0 236.6,123.1 237.7,125.3 238.8,127.4 239.9,129.4 241.0,131.4 242.1,133.5 243.2,135.5 244.3,137.7 245.4,140.0 246.5,142.5 247.7,145.2 248.8,148.2 249.9,151.5 251.0,155.1 252.1,158.8 253.2,162.7 254.3,166.8 255.4,171.2 256.5,175.8 257.6,180.7 258.7,185.9 259.9,191.5 261.0,197.5 262.1,203.9 263.2,210.8 264.3,218.3 265.4,226.4 266.5,235.2 267.6,244.8 268.7,255.2 269.8,266.0 271.0,276.7 272.1,286.1 273.2,292.3 274.3,294.5 275.4,286.9 276.5,270.7 277.6,255.6 278.7,242.8 279.8,232.0 280.9,222.8 282.0,214.8 283.2,207.8 284.3,201.5 285.4,195.9 286.5,190.8 287.6,186.1 288.7,181.7 289.8,177.7 290.9,174.0 292.0,170.7 293.1,167.6 294.3,164.8 295.4,162.2 296.5,159.7 297.6,157.3 298.7,155.0 299.8,152.7 300.9,150.4 302.0,148.2 303.1,146.1 304.2,144.1 305.3,142.1 306.5,140.3 307.6,138.5 308.7,136.7 309.8,135.0 310.9,133.4 312.0,131.8 313.1,130.3 314.2,128.8 315.3,127.4 316.4,126.0 317.6,124.6 318.7,123.3 319.8,122.0 320.9,120.8 322.0,119.6 323.1,118.4 324.2,117.2 325.3,116.1 326.4,115.0 327.5,113.9 328.6,112.8 329.8,111.8 330.9,110.8 332.0,109.8 333.1,108.9 334.2,107.9 335.3,107.0 336.4,106.1 337.5,105.2 338.6,104.3 339.7,103.4 340.9,102.6 342.0,101.8 343.1,101.0 344.2,100.2 345.3,99.4 346.4,98.6 347.5,97.8 348.6,97.1 349.7,96.4 350.8,95.6 351.9,94.9 353.1,94.2 354.2,93.6 355.3,92.9 356.4,92.2 357.5,91.6 358.6,90.9 359.7,90.3 360.8,89.7 361.9,89.1 363.0,88.5 364.2,87.9 365.3,87.3 366.4,86.8 367.5,86.2 368.6,85.7 369.7,85.1 370.8,84.6 371.9,84.1 373.0,83.7 374.1,83.2 375.2,82.7 376.4,82.3 377.5,81.8 378.6,81.4 379.7,81.0 380.8,80.5 381.9,80.1 383.0,79.7 384.1,79.3 385.2,78.9 386.3,78.5 387.5,78.1 388.6,77.7 389.7,77.4 390.8,77.0 391.9,76.6 393.0,76.3 394.1,75.9 395.2,75.6 396.3,75.2 397.4,74.9 398.5,74.6 399.7,74.3 400.8,73.9 401.9,73.6 403.0,73.3 404.1,73.0 405.2,72.7 406.3,72.5 407.4,72.2 408.5,71.9 409.6,71.7 410.8,71.4 411.9,71.2 413.0,70.9 414.1,70.7 415.2,70.5 416.3,70.2 417.4,70.0 418.5,69.8 419.6,69.6 420.7,69.4 421.8,69.2 423.0,68.9 424.1,68.7 425.2,68.5 426.3,68.3 427.4,68.1 428.5,67.9 429.6,67.8 430.7,67.6 431.8,67.4 432.9,67.2 434.1,67.0 435.2,66.8 436.3,66.6 437.4,66.4 438.5,66.2 439.6,66.0 440.7,65.8 441.8,65.6 442.9,65.4 444.0,65.2 445.1,65.0 446.3,64.8 447.4,64.6 448.5,64.4 449.6,64.2 450.7,64.0 451.8,63.8 452.9,63.6 454.0,63.4 455.1,63.2 456.2,63.0 457.4,62.8 458.5,62.6 459.6,62.4 460.7,62.2 461.8,62.0 462.9,61.8 464.0,61.6 465.1,61.4 466.2,61.3 467.3,61.1 468.4,60.9 469.6,60.7 470.7,60.5 471.8,60.4 472.9,60.2 474.0,60.0 475.1,59.9 476.2,59.7 477.3,59.5 478.4,59.4 479.5,59.2 480.7,59.1 481.8,58.9 482.9,58.8 484.0,58.7 485.1,58.5 486.2,58.4 487.3,58.2 488.4,58.1 489.5,58.0 490.6,57.8 491.7,57.7 492.9,57.6 494.0,57.5 495.1,57.3 496.2,57.2 497.3,57.1 498.4,57.0 499.5,56.8 500.6,56.7 501.7,56.6 502.8,56.5 504.0,56.4 505.1,56.3 506.2,56.1 507.3,56.0 508.4,55.9 509.5,55.8 510.6,55.7 511.7,55.6 512.8,55.5 513.9,55.4 515.0,55.3 516.2,55.2 517.3,55.1 518.4,55.0 519.5,54.9 520.6,54.8 521.7,54.7 522.8,54.6 523.9,54.5 525.0,54.4 526.1,54.3 527.3,54.2 528.4,54.2 529.5,54.1 530.6,54.0 531.7,53.9 532.8,53.8" fill="none" stroke="#000" stroke-width="1.5" stroke-linejoin="round"/>
<polyline points="66.8,35.8 67.9,35.9 69.0,36.0 70.1,36.1 71.2,36.2 72.3,36.3 73.5,36.4 74.6,36.5 75.7,36.6 76.8,36.7 77.9,36.8 79.0,36.8 80.1,36.9 81.2,37.0 82.3,37.1 83.4,37.2 84.6,37.2 85.7,37.3 86.8,37.4 87.9,37.5 89.0,37.5 90.1,37.6 91.2,37.7 92.3,37.8 93.4,37.9 94.5,38.0 95.6,38.0 96.8,38.1 97.9,38.2 99.0,38.3 100.1,38.5 101.2,38.6 102.3,38.7 103.4,38.8 104.5,38.9 105.6,39.1 106.7,39.2 107.9,39.3 109.0,39.4 110.1,39.6 111.2,39.7 112.3,39.8 113.4,40.0 114.5,40.1 115.6,40.3 116.7,40.4 117.8,40.6 118.9,40.8 120.1,40.9 121.2,41.1 122.3,41.3 123.4,41.5 124.5,41.7 125.6,41.9 126.7,42.1 127.8,42.3 128.9,42.5 130.0,42.7 131.2,42.9 132.3,43.2 133.4,43.4 134.5,43.7 135.6,44.0 136.7,44.3 137.8,44.6 138.9,44.9 140.0,45.3 141.1,45.6 142.2,45.9 143.4,46.3 144.5,46.7 145.6,47.0 146.7,47.4 147.8,47.8 148.9,48.2 150.0,48.5 151.1,49.0 152.2,49.4 153.3,49.9 154.5,50.3 155.6,50.8 156.7,51.2 157.8,51.7 158.9,52.1 160.0,52.6 161.1,53.0 162.2,53.5 163.3,53.9 164.4,54.4 165.5,54.9 166.7,55.3 167.8,55.8 168.9,56.3 170.0,56.8 171.1,57.3 172.2,57.9 173.3,58.4 174.4,58.9 175.5,59.5 176.6,60.1 177.8,60.6 178.9,61.2 180.0,61.8 181.1,62.5 182.2,63.1 183.3,63.7 184.4,64.4 185.5,65.1 186.6,65.8 187.7,66.5 188.8,67.2 190.0,67.9 191.1,68.7 192.2,69.4 193.3,70.2 194.4,71.0 195.5,71.9 196.6,72.7 197.7,73.6 198.8,74.5 199.9,75.4 201.1,76.4 202.2,77.4 203.3,78.4 204.4,79.4 205.5,80.5 206.6,81.6 207.7,82.7 208.8,83.9 209.9,85.0 211.0,86.2 212.1,87.5 213.3,88.7 214.4,90.0 215.5,91.3 216.6,92.6 217.7,94.0 218.8,95.4 219.9,96.8 221.0,98.2 222.1,99.7 223.2,101.2 224.4,102.7 225.5,104.3 226.6,106.0 227.7,107.7 228.8,109.4 229.9,111.2 231.0,113.0 232.1,114.9 233.2,116.9 234.3,118.9 235.4,121.0 236.6,123.1 237.7,125.3 238.8,127.4 239.9,129.4 241.0,131.4 242.1,133.5 243.2,135.5 244.3,137.7 245.4,140.0 246.5,142.5 247.7,145.2 248.8,148.2 249.9,151.5 251.0,155.1 252.1,158.8 253.2,162.7 254.3,166.8 255.4,171.2 256.5,175.8 257.6,180.7 258.7,185.9 259.9,191.5 261.0,197.5" fill="none" stroke="none" marker-start="url(#oTUR)" marker-mid="url(#oTUR)" marker-end="url(#oTUR)"/>
<polyline points="66.8,35.8 67.9,35.9 69.0,36.0 70.1,36.1 71.2,36.2 72.3,36.3 73.5,36.4 74.6,36.5 75.7,36.6 76.8,36.7 77.9,36.8 79.0,36.8 80.1,36.9 81.2,37.0 82.3,37.1 83.4,37.2 84.6,37.2 85.7,37.3 86.8,37.4 87.9,37.5 89.0,37.5 90.1,37.6 91.2,37.7 92.3,37.8 93.4,37.9 94.5,38.0 95.6,38.0 96.8,38.1 97.9,38.2 99.0,38.3 100.1,38.5 101.2,38.6 102.3,38.7 103.4,38.8 104.5,38.9 105.6,39.1 106.7,39.2 107.9,39.3 109.0,39.4 110.1,39.6 111.2,39.7 112.3,39.8 113.4,40.0 114.5,40.1 115.6,40.3 116.7,40.4 117.8,40.6 118.9,40.8 120.1,40.9 121.2,41.1 122.3,41.3 123.4,41.5 124.5,41.7 125.6,41.9 126.7,42.1 127.8,42.3 128.9,42.5 130.0,42.7 131.2,42.9 132.3,43.2 133.4,43.4 134.5,43.7 135.6,44.0 136.7,44.3 137.8,44.6 138.9,44.9 140.0,45.3 141.1,45.6 142.2,45.9 143.4,46.3 144.5,46.7 145.6,47.0 146.7,47.4 147.8,47.8 148.9,48.2 150.0,48.5 151.1,49.0 152.2,49.4 153.3,49.9 154.5,50.3 155.6,50.8 156.7,51.2 157.8,51.7 158.9,52.1 160.0,52.6 161.1,53.0 162.2,53.5 163.3,53.9 164.4,54.4 165.5,54.9 166.7,55.3 167.8,55.8 168.9,56.3 170.0,56.8 171.1,57.3 172.2,57.9 173.3,58.4 174.4,58.9 175.5,59.5 176.6,60.1 177.8,60.6 178.9,61.2 180.0,61.8 181.1,62.5 182.2,63.1 183.3,63.7 184.4,64.4 185.5,65.1 186.6,65.8 187.7,66.5 188.8,67.2 190.0,67.9 191.1,68.7 192.2,69.4 193.3,70.2 194.4,71.0 195.5,71.9 196.6,72.7 197.7,73.6 198.8,74.5 199.9,75.4 201.1,76.4 202.2,77.4 203.3,78.4 204.4,79.4 205.5,80.5 206.6,81.6 207.7,82.7 208.8,83.9 209.9,85.0 211.0,86.2 212.1,87.5 213.3,88.7 214.4,90.0 215.5,91.3 216.6,92.6 217.7,94.0 218.8,95.4 219.9,96.8 221.0,98.2 222.1,99.7 223.2,101.2 224.4,102.7 225.5,104.3 226.6,106.0 227.7,107.7 228.8,109.4 229.9,111.2 231.0,113.0 232.1,114.9 233.2,116.9 234.3,118.9 235.4,121.0 236.6,123.1 237.7,125.3 238.8,127.4 239.9,129.4 241.0,131.4 242.1,133.5 243.2,135.5 244.3,137.7 245.4,140.0 246.5,142.5 247.7,145.2 248.8,148.2 249.9,151.5 251.0,155.1 252.1,158.8 253.2,162.7 254.3,166.8 255.4,171.2 256.5,175.8 257.6,180.7 258.7,185.9 259.9,191.5 261.0,197.5" fill="none" stroke="none" marker-start="url(#iTUR)" marker-mid="url(#iTUR)" marker-end="url(#iTUR)"/>
<polyline points="262.1,203.9 263.2,210.8 264.3,218.3 265.4,226.4 266.5,235.2 267.6,244.8 268.7,255.2 269.8,266.0 271.0,276.7 272.1,286.1" fill="none" stroke="none" marker-start="url(#sTUR)" marker-mid="url(#sTUR)" marker-end="url(#sTUR)"/>
<polyline points="273.2,292.3 274.3,294.5" fill="none" stroke="none" marker-start="url(#oTUR)" marker-mid="url(#oTUR)" marker-end="url(#oTUR)"/>
<polyline points="273.2,292.3 274.3,294.5" fill="none" stroke="none" marker-start="url(#iTUR)" marker-mid="url(#iTUR)" marker-end="url(#iTUR)"/>
<polyline points="275.4,286.9 276.5,270.7 277.6,255.6 278.7,242.8 279.8,232.0 280.9,222.8 282.0,214.8" fill="none" stroke="none" marker-start="url(#sTUR)" marker-mid="url(#sTUR)" marker-end="url(#sTUR)"/>
<polyline points="283.2,207.8 284.3,201.5 285.4,195.9 286.5,190.8 287.6,186.1 288.7,181.7 289.8,177.7 290.9,174.0 292.0,170.7 293.1,167.6 294.3,164.8 295.4,162.2 296.5,159.7 297.6,157.3 298.7,155.0 299.8,152.7 300.9,150.4 302.0,148.2 303.1,146.1 304.2,144.1 305.3,142.1 306.5,140.3 307.6,138.5 308.7,136.7 309.8,135.0 310.9,133.4 312.0,131.8 313.1,130.3 314.2,128.8 315.3,127.4 316.4,126.0 317.6,124.6 318.7,123.3 319.8,122.0 320.9,120.8 322.0,119.6 323.1,118.4 324.2,117.2 325.3,116.1 326.4,115.0 327.5,113.9 328.6,112.8 329.8,111.8 330.9,110.8 332.0,109.8 333.1,108.9 334.2,107.9 335.3,107.0 336.4,106.1 337.5,105.2 338.6,104.3 339.7,103.4 340.9,102.6 342.0,101.8 343.1,101.0 344.2,100.2 345.3,99.4 346.4,98.6 347.5,97.8 348.6,97.1 349.7,96.4 350.8,95.6 351.9,94.9 353.1,94.2 354.2,93.6 355.3,92.9 356.4,92.2 357.5,91.6 358.6,90.9 359.7,90.3 360.8,89.7 361.9,89.1 363.0,88.5 364.2,87.9 365.3,87.3 366.4,86.8 367.5,86.2 368.6,85.7 369.7,85.1 370.8,84.6 371.9,84.1 373.0,83.7 374.1,83.2 375.2,82.7 376.4,82.3 377.5,81.8 378.6,81.4 379.7,81.0 380.8,80.5 381.9,80.1 383.0,79.7 384.1,79.3 385.2,78.9 386.3,78.5 387.5,78.1 388.6,77.7 389.7,77.4 390.8,77.0 391.9,76.6 393.0,76.3 394.1,75.9 395.2,75.6 396.3,75.2 397.4,74.9 398.5,74.6 399.7,74.3 400.8,73.9 401.9,73.6 403.0,73.3 404.1,73.0 405.2,72.7 406.3,72.5 407.4,72.2 408.5,71.9 409.6,71.7 410.8,71.4 411.9,71.2 413.0,70.9 414.1,70.7 415.2,70.5 416.3,70.2 417.4,70.0 418.5,69.8 419.6,69.6 420.7,69.4 421.8,69.2 423.0,68.9 424.1,68.7 425.2,68.5 426.3,68.3 427.4,68.1 428.5,67.9 429.6,67.8 430.7,67.6 431.8,67.4 432.9,67.2 434.1,67.0 435.2,66.8 436.3,66.6 437.4,66.4 438.5,66.2 439.6,66.0 440.7,65.8 441.8,65.6 442.9,65.4 444.0,65.2 445.1,65.0 446.3,64.8 447.4,64.6 448.5,64.4 449.6,64.2 450.7,64.0 451.8,63.8 452.9,63.6 454.0,63.4 455.1,63.2 456.2,63.0 457.4,62.8 458.5,62.6 459.6,62.4 460.7,62.2 461.8,62.0 462.9,61.8 464.0,61.6 465.1,61.4 466.2,61.3 467.3,61.1 468.4,60.9 469.6,60.7 470.7,60.5 471.8,60.4 472.9,60.2 474.0,60.0 475.1,59.9 476.2,59.7 477.3,59.5 478.4,59.4 479.5,59.2 480.7,59.1 481.8,58.9 482.9,58.8 484.0,58.7 485.1,58.5 486.2,58.4 487.3,58.2 488.4,58.1 489.5,58.0 490.6,57.8 491.7,57.7 492.9,57.6 494.0,57.5 495.1,57.3 496.2,57.2 497.3,57.1 498.4,57.0 499.5,56.8 500.6,56.7 501.7,56.6 502.8,56.5 504.0,56.4 505.1,56.3 506.2,56.1 507.3,56.0 508.4,55.9 509.5,55.8 510.6,55.7 511.7,55.6 512.8,55.5 513.9,55.4 515.0,55.3 516.2,55.2 517.3,55.1 518.4,55.0 519.5,54.9 520.6,54.8 521.7,54.7 522.8,54.6 523.9,54.5 525.0,54.4 526.1,54.3 527.3,54.2 528.4,54.2 529.5,54.1 530.6,54.0 531.7,53.9 532.8,53.8" fill="none" stroke="none" marker-start="url(#oTUR)" marker-mid="url(#oTUR)" marker-end="url(#oTUR)"/>
<polyline points="283.2,207.8 284.3,201.5 285.4,195.9 286.5,190.8 287.6,186.1 288.7,181.7 289.8,177.7 290.9,174.0 292.0,170.7 293.1,167.6 294.3,164.8 295.4,162.2 296.5,159.7 297.6,157.3 298.7,155.0 299.8,152.7 300.9,150.4 302.0,148.2 303.1,146.1 304.2,144.1 305.3,142.1 306.5,140.3 307.6,138.5 308.7,136.7 309.8,135.0 310.9,133.4 312.0,131.8 313.1,130.3 314.2,128.8 315.3,127.4 316.4,126.0 317.6,124.6 318.7,123.3 319.8,122.0 320.9,120.8 322.0,119.6 323.1,118.4 324.2,117.2 325.3,116.1 326.4,115.0 327.5,113.9 328.6,112.8 329.8,111.8 330.9,110.8 332.0,109.8 333.1,108.9 334.2,107.9 335.3,107.0 336.4,106.1 337.5,105.2 338.6,104.3 339.7,103.4 340.9,102.6 342.0,101.8 343.1,101.0 344.2,100.2 345.3,99.4 346.4,98.6 347.5,97.8 348.6,97.1 349.7,96.4 350.8,95.6 351.9,94.9 353.1,94.2 354.2,93.6 355.3,92.9 356.4,92.2 357.5,91.6 358.6,90.9 359.7,90.3 360.8,89.7 361.9,89.1 363.0,88.5 364.2,87.9 365.3,87.3 366.4,86.8 367.5,86.2 368.6,85.7 369.7,85.1 370.8,84.6 371.9,84.1 373.0,83.7 374.1,83.2 375.2,82.7 376.4,82.3 377.5,81.8 378.6,81.4 379.7,81.0 380.8,80.5 381.9,80.1 383.0,79.7 384.1,79.3 385.2,78.9 386.3,78.5 387.5,78.1 388.6,77.7 389.7,77.4 390.8,77.0 391.9,76.6 393.0,76.3 394.1,75.9 395.2,75.6 396.3,75.2 397.4,74.9 398.5,74.6 399.7,74.3 400.8,73.9 401.9,73.6 403.0,73.3 404.1,73.0 405.2,72.7 406.3,72.5 407.4,72.2 408.5,71.9 409.6,71.7 410.8,71.4 411.9,71.2 413.0,70.9 414.1,70.7 415.2,70.5 416.3,70.2 417.4,70.0 418.5,69.8 419.6,69.6 420.7,69.4 421.8,69.2 423.0,68.9 424.1,68.7 425.2,68.5 426.3,68.3 427.4,68.1 428.5,67.9 429.6,67.8 430.7,67.6 431.8,67.4 432.9,67.2 434.1,67.0 435.2,66.8 436.3,66.6 437.4,66.4 438.5,66.2 439.6,66.0 440.7,65.8 441.8,65.6 442.9,65.4 444.0,65.2 445.1,65.0 446.3,64.8 447.4,64.6 448.5,64.4 449.6,64.2 450.7,64.0 451.8,63.8 452.9,63.6 454.0,63.4 455.1,63.2 456.2,63.0 457.4,62.8 458.5,62.6 459.6,62.4 460.7,62.2 461.8,62.0 462.9,61.8 464.0,61.6 465.1,61.4 466.2,61.3 467.3,61.1 468.4,60.9 469.6,60.7 470.7,60.5 471.8,60.4 472.9,60.2 474.0,60.0 475.1,59.9 476.2,59.7 477.3,59.5 478.4,59.4 479.5,59.2 480.7,59.1 481.8,58.9 482.9,58.8 484.0,58.7 485.1,58.5 486.2,58.4 487.3,58.2 488.4,58.1 489.5,58.0 490.6,57.8 491.7,57.7 492.9,57.6 494.0,57.5 495.1,57.3 496.2,57.2 497.3,57.1 498.4,57.0 499.5,56.8 500.6,56.7 501.7,56.6 502.8,56.5 504.0,56.4 505.1,56.3 506.2,56.1 507.3,56.0 508.4,55.9 509.5,55.8 510.6,55.7 511.7,55.6 512.8,55.5 513.9,55.4 515.0,55.3 516.2,55.2 517.3,55.1 518.4,55.0 519.5,54.9 520.6,54.8 521.7,54.7 522.8,54.6 523.9,54.5 525.0,54.4 526.1,54.3 527.3,54.2 528.4,54.2 529.5,54.1 530.6,54.0 531.7,53.9 532.8,53.8" fill="none" stroke="none" marker-start="url(#iTUR)" marker-mid="url(#iTUR)" marker-end="url(#iTUR)"/>
<polyline points="66.8,37.9 67.9,38.0 69.0,38.2 70.1,38.3 71.2,38.4 72.3,38.6 73.5,38.7 74.6,38.9 75.7,39.0 76.8,39.2 77.9,39.3 79.0,39.4 80.1,39.5 81.2,39.6 82.3,39.7 83.4,39.8 84.6,39.9 85.7,40.0 86.8,40.1 87.9,40.2 89.0,40.3 90.1,40.4 91.2,40.5 92.3,40.7 93.4,40.8 94.5,40.9 95.6,41.1 96.8,41.3 97.9,41.6 99.0,41.8 100.1,42.0 101.2,42.3 102.3,42.5 103.4,42.8 104.5,43.0 105.6,43.3 106.7,43.5 107.9,43.8 109.0,44.0 110.1,44.3 111.2,44.5 112.3,44.8 113.4,45.1 114.5,45.3 115.6,45.6 116.7,45.8 117.8,46.1 118.9,46.4 120.1,46.6 121.2,46.9 122.3,47.2 123.4,47.4 124.5,47.7 125.6,48.0 126.7,48.3 127.8,48.6 128.9,48.9 130.0,49.2 131.2,49.5 132.3,49.9 133.4,50.3 134.5,50.7 135.6,51.1 136.7,51.6 137.8,52.1 138.9,52.5 140.0,53.0 141.1,53.6 142.2,54.1 143.4,54.6 144.5,55.2 145.6,55.8 146.7,56.3 147.8,56.9 148.9,57.5 150.0,58.1 151.1,58.7 152.2,59.3 153.3,60.0 154.5,60.6 155.6,61.2 156.7,61.8 157.8,62.4 158.9,63.1 160.0,63.7 161.1,64.3 162.2,65.0 163.3,65.7 164.4,66.4 165.5,67.1 166.7,67.9 167.8,68.7 168.9,69.5 170.0,70.3 171.1,71.1 172.2,72.0 173.3,72.8 174.4,73.7 175.5,74.6 176.6,75.5 177.8,76.4 178.9,77.3 180.0,78.2 181.1,79.1 182.2,80.1 183.3,81.1 184.4,82.1 185.5,83.1 186.6,84.2 187.7,85.3 188.8,86.4 190.0,87.5 191.1,88.7 192.2,89.9 193.3,91.2 194.4,92.4 195.5,93.8 196.6,95.0 197.7,96.3 198.8,97.6 199.9,99.0 201.1,100.4 202.2,101.8 203.3,103.3 204.4,104.9 205.5,106.6 206.6,108.4 207.7,110.2 208.8,112.1 209.9,114.1 211.0,116.1 212.1,118.2 213.3,120.3 214.4,122.5 215.5,124.8 216.6,127.2 217.7,129.6 218.8,132.2 219.9,134.9 221.0,137.6 222.1,140.5 223.2,143.5 224.4,146.6 225.5,149.8 226.6,153.2 227.7,156.8 228.8,160.5 229.9,164.5 231.0,168.6 232.1,173.0 233.2,177.6 234.3,182.5 235.4,187.8 236.6,193.4 237.7,199.4 238.8,205.9 239.9,212.9 241.0,220.5 242.1,228.7 243.2,237.8 244.3,247.7 245.4,258.4 246.5,269.8 247.7,281.1 248.8,290.9 249.9,297.2 251.0,299.0 252.1,290.3 252.9,275.0 253.4,260.5 254.2,248.1 255.1,237.4 256.1,228.2 257.3,220.2 258.6,213.0 260.0,206.7 261.3,200.9 262.5,195.7 263.7,190.8 264.9,186.3 266.1,182.2 267.3,178.3 268.5,174.6 269.7,171.2 270.8,168.0 272.0,164.9 273.1,162.0 274.3,159.2 275.4,156.6 276.5,154.0 277.6,151.6 278.7,149.3 279.8,147.1 280.9,144.9 282.0,142.9 283.2,140.9 284.3,139.0 285.4,137.2 286.5,135.4 287.6,133.7 288.7,132.1 289.8,130.5 290.9,129.0 292.0,127.5 293.1,126.1 294.3,124.7 295.4,123.3 296.5,122.0 297.6,120.7 298.7,119.5 299.8,118.3 300.9,117.1 302.0,115.9 303.1,114.8 304.2,113.6 305.3,112.5 306.5,111.4 307.6,110.3 308.7,109.2 309.8,108.2 310.9,107.2 312.0,106.2 313.1,105.2 314.2,104.3 315.3,103.3 316.4,102.4 317.6,101.6 318.7,100.7 319.8,99.9 320.9,99.1 322.0,98.4 323.1,97.6 324.2,96.9 325.3,96.2 326.4,95.6 327.5,94.9 328.6,94.3 329.8,93.7 330.9,93.1 332.0,92.5 333.1,92.0 334.2,91.4 335.3,90.9 336.4,90.4 337.5,89.9 338.6,89.4 339.7,88.9 340.9,88.4 342.0,88.0 343.1,87.5 344.2,87.1 345.3,86.7 346.4,86.3 347.5,85.8 348.6,85.4 349.7,85.0 350.8,84.6 351.9,84.2 353.1,83.8 354.2,83.5 355.3,83.1 356.4,82.7 357.5,82.3 358.6,81.9 359.7,81.6 360.8,81.2 361.9,80.8 363.0,80.4 364.2,80.1 365.3,79.7 366.4,79.4 367.5,79.1 368.6,78.7 369.7,78.4 370.8,78.1 371.9,77.8 373.0,77.5 374.1,77.1 375.2,76.8 376.4,76.5 377.5,76.2 378.6,75.8 379.7,75.5 380.8,75.2 381.9,74.9 383.0,74.6 384.1,74.3 385.2,74.0 386.3,73.7 387.5,73.4 388.6,73.1 389.7,72.8 390.8,72.5 391.9,72.2 393.0,72.0 394.1,71.7 395.2,71.4 396.3,71.2 397.4,70.9 398.5,70.6 399.7,70.4 400.8,70.1 401.9,69.9 403.0,69.6 404.1,69.3 405.2,69.1 406.3,68.8 407.4,68.6 408.5,68.3 409.6,68.0 410.8,67.8 411.9,67.5 413.0,67.2 414.1,67.0 415.2,66.7 416.3,66.5 417.4,66.2 418.5,66.0 419.6,65.7 420.7,65.5 421.8,65.2 423.0,65.0 424.1,64.7 425.2,64.5 426.3,64.2 427.4,64.0 428.5,63.8 429.6,63.6 430.7,63.3 431.8,63.1 432.9,62.9 434.1,62.7 435.2,62.5 436.3,62.3 437.4,62.1 438.5,61.9 439.6,61.7 440.7,61.6 441.8,61.4 442.9,61.2 444.0,61.1 445.1,60.9 446.3,60.7 447.4,60.6 448.5,60.4 449.6,60.3 450.7,60.1 451.8,59.9 452.9,59.8 454.0,59.6 455.1,59.5 456.2,59.3 457.4,59.2 458.5,59.1 459.6,58.9 460.7,58.8 461.8,58.6 462.9,58.5 464.0,58.4 465.1,58.2 466.2,58.1 467.3,58.0 468.4,57.8 469.6,57.7 470.7,57.6 471.8,57.5 472.9,57.3 474.0,57.2 475.1,57.1 476.2,57.0 477.3,56.8 478.4,56.7 479.5,56.6 480.7,56.5 481.8,56.4 482.9,56.3 484.0,56.2 485.1,56.1 486.2,55.9 487.3,55.8 488.4,55.7 489.5,55.6 490.6,55.5 491.7,55.4 492.9,55.3 494.0,55.2 495.1,55.1 496.2,55.0 497.3,54.9 498.4,54.8 499.5,54.7 500.6,54.7 501.7,54.6 502.8,54.5 504.0,54.4 505.1,54.3 506.2,54.2 507.3,54.1 508.4,54.0 509.5,54.0 510.6,53.9 511.7,53.8 512.8,53.7 513.9,53.6 515.0,53.6 516.2,53.5 517.3,53.4 518.4,53.3 519.5,53.2 520.6,53.2 521.7,53.1 522.8,53.0 523.9,53.0 525.0,52.9 526.1,52.8 527.3,52.7 528.4,52.7 529.5,52.6 530.6,52.5 531.7,52.5 532.8,52.4" fill="none" stroke="#b000b0" stroke-width="1.5" stroke-linejoin="round"/>
<polyline points="66.8,37.9 67.9,38.0 69.0,38.2 70.1,38.3 71.2,38.4 72.3,38.6 73.5,38.7 74.6,38.9 75.7,39.0 76.8,39.2 77.9,39.3 79.0,39.4 80.1,39.5 81.2,39.6 82.3,39.7 83.4,39.8 84.6,39.9 85.7,40.0 86.8,40.1 87.9,40.2 89.0,40.3 90.1,40.4 91.2,40.5 92.3,40.7 93.4,40.8 94.5,40.9 95.6,41.1 96.8,41.3 97.9,41.6 99.0,41.8 100.1,42.0 101.2,42.3 102.3,42.5 103.4,42.8 104.5,43.0 105.6,43.3 106.7,43.5 107.9,43.8 109.0,44.0 110.1,44.3 111.2,44.5 112.3,44.8 113.4,45.1 114.5,45.3 115.6,45.6 116.7,45.8 117.8,46.1 118.9,46.4 120.1,46.6 121.2,46.9 122.3,47.2 123.4,47.4 124.5,47.7 125.6,48.0 126.7,48.3 127.8,48.6 128.9,48.9 130.0,49.2 131.2,49.5 132.3,49.9 133.4,50.3 134.5,50.7 135.6,51.1 136.7,51.6 137.8,52.1 138.9,52.5 140.0,53.0 141.1,53.6 142.2,54.1 143.4,54.6 144.5,55.2 145.6,55.8 146.7,56.3 147.8,56.9 148.9,57.5 150.0,58.1 151.1,58.7 152.2,59.3 153.3,60.0 154.5,60.6 155.6,61.2 156.7,61.8 157.8,62.4 158.9,63.1 160.0,63.7 161.1,64.3 162.2,65.0 163.3,65.7 164.4,66.4 165.5,67.1 166.7,67.9 167.8,68.7 168.9,69.5 170.0,70.3 171.1,71.1 172.2,72.0 173.3,72.8 174.4,73.7 175.5,74.6 176.6,75.5 177.8,76.4 178.9,77.3 180.0,78.2 181.1,79.1 182.2,80.1 183.3,81.1 184.4,82.1 185.5,83.1 186.6,84.2 187.7,85.3 188.8,86.4 190.0,87.5 191.1,88.7 192.2,89.9 193.3,91.2 194.4,92.4 195.5,93.8 196.6,95.0 197.7,96.3 198.8,97.6 199.9,99.0 201.1,100.4 202.2,101.8 203.3,103.3 204.4,104.9 205.5,106.6 206.6,108.4 207.7,110.2 208.8,112.1 209.9,114.1 211.0,116.1 212.1,118.2 213.3,120.3 214.4,122.5 215.5,124.8 216.6,127.2 217.7,129.6 218.8,132.2 219.9,134.9 221.0,137.6 222.1,140.5 223.2,143.5 224.4,146.6 225.5,149.8 226.6,153.2 227.7,156.8 228.8,160.5 229.9,164.5 231.0,168.6 232.1,173.0 233.2,177.6 234.3,182.5 235.4,187.8 236.6,193.4 237.7,199.4" fill="none" stroke="none" marker-start="url(#oJAVA)" marker-mid="url(#oJAVA)" marker-end="url(#oJAVA)"/>
<polyline points="66.8,37.9 67.9,38.0 69.0,38.2 70.1,38.3 71.2,38.4 72.3,38.6 73.5,38.7 74.6,38.9 75.7,39.0 76.8,39.2 77.9,39.3 79.0,39.4 80.1,39.5 81.2,39.6 82.3,39.7 83.4,39.8 84.6,39.9 85.7,40.0 86.8,40.1 87.9,40.2 89.0,40.3 90.1,40.4 91.2,40.5 92.3,40.7 93.4,40.8 94.5,40.9 95.6,41.1 96.8,41.3 97.9,41.6 99.0,41.8 100.1,42.0 101.2,42.3 102.3,42.5 103.4,42.8 104.5,43.0 105.6,43.3 106.7,43.5 107.9,43.8 109.0,44.0 110.1,44.3 111.2,44.5 112.3,44.8 113.4,45.1 114.5,45.3 115.6,45.6 116.7,45.8 117.8,46.1 118.9,46.4 120.1,46.6 121.2,46.9 122.3,47.2 123.4,47.4 124.5,47.7 125.6,48.0 126.7,48.3 127.8,48.6 128.9,48.9 130.0,49.2 131.2,49.5 132.3,49.9 133.4,50.3 134.5,50.7 135.6,51.1 136.7,51.6 137.8,52.1 138.9,52.5 140.0,53.0 141.1,53.6 142.2,54.1 143.4,54.6 144.5,55.2 145.6,55.8 146.7,56.3 147.8,56.9 148.9,57.5 150.0,58.1 151.1,58.7 152.2,59.3 153.3,60.0 154.5,60.6 155.6,61.2 156.7,61.8 157.8,62.4 158.9,63.1 160.0,63.7 161.1,64.3 162.2,65.0 163.3,65.7 164.4,66.4 165.5,67.1 166.7,67.9 167.8,68.7 168.9,69.5 170.0,70.3 171.1,71.1 172.2,72.0 173.3,72.8 174.4,73.7 175.5,74.6 176.6,75.5 177.8,76.4 178.9,77.3 180.0,78.2 181.1,79.1 182.2,80.1 183.3,81.1 184.4,82.1 185.5,83.1 186.6,84.2 187.7,85.3 188.8,86.4 190.0,87.5 191.1,88.7 192.2,89.9 193.3,91.2 194.4,92.4 195.5,93.8 196.6,95.0 197.7,96.3 198.8,97.6 199.9,99.0 201.1,100.4 202.2,101.8 203.3,103.3 204.4,104.9 205.5,106.6 206.6,108.4 207.7,110.2 208.8,112.1 209.9,114.1 211.0,116.1 212.1,118.2 213.3,120.3 214.4,122.5 215.5,124.8 216.6,127.2 217.7,129.6 218.8,132.2 219.9,134.9 221.0,137.6 222.1,140.5 223.2,143.5 224.4,146.6 225.5,149.8 226.6,153.2 227.7,156.8 228.8,160.5 229.9,164.5 231.0,168.6 232.1,173.0 233.2,177.6 234.3,182.5 235.4,187.8 236.6,193.4 237.7,199.4" fill="none" stroke="none" marker-start="url(#iJAVA)" marker-mid="url(#iJAVA)" marker-end="url(#iJAVA)"/>
<polyline points="238.8,205.9 239.9,212.9 241.0,220.5 242.1,228.7 243.2,237.8 244.3,247.7 245.4,258.4 246.5,269.8 247.7,281.1 248.8,290.9" fill="none" stroke="none" marker-start="url(#sJAVA)" marker-mid="url(#sJAVA)" marker-end="url(#sJAVA)"/>
<polyline points="249.9,297.2 251.0,299.0" fill="none" stroke="none" marker-start="url(#oJAVA)" marker-mid="url(#oJAVA)" marker-end="url(#oJAVA)"/>
<polyline points="249.9,297.2 251.0,299.0" fill="none" stroke="none" marker-start="url(#iJAVA)" marker-mid="url(#iJAVA)" marker-end="url(#iJAVA)"/>
<polyline points="252.1,290.3 252.9,275.0 253.4,260.5 254.2,248.1 255.1,237.4 256.1,228.2 257.3,220.2" fill="none" stroke="none" marker-start="url(#sJAVA)" marker-mid="url(#sJAVA)" marker-end="url(#sJAVA)"/>
<polyline points="258.6,213.0 260.0,206.7 261.3,200.9 262.5,195.7 263.7,190.8 264.9,186.3 266.1,182.2 267.3,178.3 268.5,174.6 269.7,171.2 270.8,168.0 272.0,164.9 273.1,162.0 274.3,159.2 275.4,156.6 276.5,154.0 277.6,151.6 278.7,149.3 279.8,147.1 280.9,144.9 282.0,142.9 283.2,140.9 284.3,139.0 285.4,137.2 286.5,135.4 287.6,133.7 288.7,132.1 289.8,130.5 290.9,129.0 292.0,127.5 293.1,126.1 294.3,124.7 295.4,123.3 296.5,122.0 297.6,120.7 298.7,119.5 299.8,118.3 300.9,117.1 302.0,115.9 303.1,114.8 304.2,113.6 305.3,112.5 306.5,111.4 307.6,110.3 308.7,109.2 309.8,108.2 310.9,107.2 312.0,106.2 313.1,105.2 314.2,104.3 315.3,103.3 316.4,102.4 317.6,101.6 318.7,100.7 319.8,99.9 320.9,99.1 322.0,98.4 323.1,97.6 324.2,96.9 325.3,96.2 326.4,95.6 327.5,94.9 328.6,94.3 329.8,93.7 330.9,93.1 332.0,92.5 333.1,92.0 334.2,91.4 335.3,90.9 336.4,90.4 337.5,89.9 338.6,89.4 339.7,88.9 340.9,88.4 342.0,88.0 343.1,87.5 344.2,87.1 345.3,86.7 346.4,86.3 347.5,85.8 348.6,85.4 349.7,85.0 350.8,84.6 351.9,84.2 353.1,83.8 354.2,83.5 355.3,83.1 356.4,82.7 357.5,82.3 358.6,81.9 359.7,81.6 360.8,81.2 361.9,80.8 363.0,80.4 364.2,80.1 365.3,79.7 366.4,79.4 367.5,79.1 368.6,78.7 369.7,78.4 370.8,78.1 371.9,77.8 373.0,77.5 374.1,77.1 375.2,76.8 376.4,76.5 377.5,76.2 378.6,75.8 379.7,75.5 380.8,75.2 381.9,74.9 383.0,74.6 384.1,74.3 385.2,74.0 386.3,73.7 387.5,73.4 388.6,73.1 389.7,72.8 390.8,72.5 391.9,72.2 393.0,72.0 394.1,71.7 395.2,71.4 396.3,71.2 397.4,70.9 398.5,70.6 399.7,70.4 400.8,70.1 401.9,69.9 403.0,69.6 404.1,69.3 405.2,69.1 406.3,68.8 407.4,68.6 408.5,68.3 409.6,68.0 410.8,67.8 411.9,67.5 413.0,67.2 414.1,67.0 415.2,66.7 416.3,66.5 417.4,66.2 418.5,66.0 419.6,65.7 420.7,65.5 421.8,65.2 423.0,65.0 424.1,64.7 425.2,64.5 426.3,64.2 427.4,64.0 428.5,63.8 429.6,63.6 430.7,63.3 431.8,63.1 432.9,62.9 434.1,62.7 435.2,62.5 436.3,62.3 437.4,62.1 438.5,61.9 439.6,61.7 440.7,61.6 441.8,61.4 442.9,61.2 444.0,61.1 445.1,60.9 446.3,60.7 447.4,60.6 448.5,60.4 449.6,60.3 450.7,60.1 451.8,59.9 452.9,59.8 454.0,59.6 455.1,59.5 456.2,59.3 457.4,59.2 458.5,59.1 459.6,58.9 460.7,58.8 461.8,58.6 462.9,58.5 464.0,58.4 465.1,58.2 466.2,58.1 467.3,58.0 468.4,57.8 469.6,57.7 470.7,57.6 471.8,57.5 472.9,57.3 474.0,57.2 475.1,57.1 476.2,57.0 477.3,56.8 478.4,56.7 479.5,56.6 480.7,56.5 481.8,56.4 482.9,56.3 484.0,56.2 485.1,56.1 486.2,55.9 487.3,55.8 488.4,55.7 489.5,55.6 490.6,55.5 491.7,55.4 492.9,55.3 494.0,55.2 495.1,55.1 496.2,55.0 497.3,54.9 498.4,54.8 499.5,54.7 500.6,54.7 501.7,54.6 502.8,54.5 504.0,54.4 505.1,54.3 506.2,54.2 507.3,54.1 508.4,54.0 509.5,54.0 510.6,53.9 511.7,53.8 512.8,53.7 513.9,53.6 515.0,53.6 516.2,53.5 517.3,53.4 518.4,53.3 519.5,53.2 520.6,53.2 521.7,53.1 522.8,53.0 523.9,53.0 525.0,52.9 526.1,52.8 527.3,52.7 528.4,52.7 529.5,52.6 530.6,52.5 531.7,52.5 532.8,52.4" fill="none" stroke="none" marker-start="url(#oJAVA)" marker-mid="url(#oJAVA)" marker-end="url(#oJAVA)"/>
<polyline points="258.6,213.0 260.0,206.7 261.3,200.9 262.5,195.7 263.7,190.8 264.9,186.3 266.1,182.2 267.3,178.3 268.5,174.6 269.7,171.2 270.8,168.0 272.0,164.9 273.1,162.0 274.3,159.2 275.4,156.6 276.5,154.0 277.6,151.6 278.7,149.3 279.8,147.1 280.9,144.9 282.0,142.9 283.2,140.9 284.3,139.0 285.4,137.2 286.5,135.4 287.6,133.7 288.7,132.1 289.8,130.5 290.9,129.0 292.0,127.5 293.1,126.1 294.3,124.7 295.4,123.3 296.5,122.0 297.6,120.7 298.7,119.5 299.8,118.3 300.9,117.1 302.0,115.9 303.1,114.8 304.2,113.6 305.3,112.5 306.5,111.4 307.6,110.3 308.7,109.2 309.8,108.2 310.9,107.2 312.0,106.2 313.1,105.2 314.2,104.3 315.3,103.3 316.4,102.4 317.6,101.6 318.7,100.7 319.8,99.9 320.9,99.1 322.0,98.4 323.1,97.6 324.2,96.9 325.3,96.2 326.4,95.6 327.5,94.9 328.6,94.3 329.8,93.7 330.9,93.1 332.0,92.5 333.1,92.0 334.2,91.4 335.3,90.9 336.4,90.4 337.5,89.9 338.6,89.4 339.7,88.9 340.9,88.4 342.0,88.0 343.1,87.5 344.2,87.1 345.3,86.7 346.4,86.3 347.5,85.8 348.6,85.4 349.7,85.0 350.8,84.6 351.9,84.2 353.1,83.8 354.2,83.5 355.3,83.1 356.4,82.7 357.5,82.3 358.6,81.9 359.7,81.6 360.8,81.2 361.9,80.8 363.0,80.4 364.2,80.1 365.3,79.7 366.4,79.4 367.5,79.1 368.6,78.7 369.7,78.4 370.8,78.1 371.9,77.8 373.0,77.5 374.1,77.1 375.2,76.8 376.4,76.5 377.5,76.2 378.6,75.8 379.7,75.5 380.8,75.2 381.9,74.9 383.0,74.6 384.1,74.3 385.2,74.0 386.3,73.7 387.5,73.4 388.6,73.1 389.7,72.8 390.8,72.5 391.9,72.2 393.0,72.0 394.1,71.7 395.2,71.4 396.3,71.2 397.4,70.9 398.5,70.6 399.7,70.4 400.8,70.1 401.9,69.9 403.0,69.6 404.1,69.3 405.2,69.1 406.3,68.8 407.4,68.6 408.5,68.3 409.6,68.0 410.8,67.8 411.9,67.5 413.0,67.2 414.1,67.0 415.2,66.7 416.3,66.5 417.4,66.2 418.5,66.0 419.6,65.7 420.7,65.5 421.8,65.2 423.0,65.0 424.1,64.7 425.2,64.5 426.3,64.2 427.4,64.0 428.5,63.8 429.6,63.6 430.7,63.3 431.8,63.1 432.9,62.9 434.1,62.7 435.2,62.5 436.3,62.3 437.4,62.1 438.5,61.9 439.6,61.7 440.7,61.6 441.8,61.4 442.9,61.2 444.0,61.1 445.1,60.9 446.3,60.7 447.4,60.6 448.5,60.4 449.6,60.3 450.7,60.1 451.8,59.9 452.9,59.8 454.0,59.6 455.1,59.5 456.2,59.3 457.4,59.2 458.5,59.1 459.6,58.9 460.7,58.8 461.8,58.6 462.9,58.5 464.0,58.4 465.1,58.2 466.2,58.1 467.3,58.0 468.4,57.8 469.6,57.7 470.7,57.6 471.8,57.5 472.9,57.3 474.0,57.2 475.1,57.1 476.2,57.0 477.3,56.8 478.4,56.7 479.5,56.6 480.7,56.5 481.8,56.4 482.9,56.3 484.0,56.2 485.1,56.1 486.2,55.9 487.3,55.8 488.4,55.7 489.5,55.6 490.6,55.5 491.7,55.4 492.9,55.3 494.0,55.2 495.1,55.1 496.2,55.0 497.3,54.9 498.4,54.8 499.5,54.7 500.6,54.7 501.7,54.6 502.8,54.5 504.0,54.4 505.1,54.3 506.2,54.2 507.3,54.1 508.4,54.0 509.5,54.0 510.6,53.9 511.7,53.8 512.8,53.7 513.9,53.6 515.0,53.6 516.2,53.5 517.3,53.4 518.4,53.3 519.5,53.2 520.6,53.2 521.7,53.1 522.8,53.0 523.9,53.0 525.0,52.9 526.1,52.8 527.3,52.7 528.4,52.7 529.5,52.6 530.6,52.5 531.7,52.5 532.8,52.4" fill="none" stroke="none" marker-start="url(#iJAVA)" marker-mid="url(#iJAVA)" marker-end="url(#iJAVA)"/>
<polyline points="66.8,37.5 67.9,37.6 69.0,37.8 70.1,38.0 71.2,38.2 72.3,38.3 73.5,38.5 74.6,38.7 75.7,38.9 76.8,39.0 77.9,39.2 79.0,39.4 80.1,39.5 81.2,39.7 82.3,39.8 83.4,39.9 84.6,40.1 85.7,40.2 86.8,40.4 87.9,40.5 89.0,40.7 90.1,40.8 91.2,41.0 92.3,41.1 93.4,41.3 94.5,41.4 95.6,41.6 96.8,41.8 97.9,42.0 99.0,42.2 100.1,42.4 101.2,42.7 102.3,42.9 103.4,43.1 104.5,43.4 105.6,43.6 106.7,43.9 107.9,44.1 109.0,44.4 110.1,44.7 111.2,45.0 112.3,45.2 113.4,45.5 114.5,45.8 115.6,46.1 116.7,46.4 117.8,46.7 118.9,47.1 120.1,47.4 121.2,47.7 122.3,48.1 123.4,48.4 124.5,48.8 125.6,49.1 126.7,49.5 127.8,49.9 128.9,50.3 130.0,50.7 131.2,51.0 132.3,51.4 133.4,51.7 134.5,52.1 135.6,52.5 136.7,52.9 137.8,53.3 138.9,53.7 140.0,54.2 141.1,54.7 142.2,55.2 143.4,55.7 144.5,56.2 145.6,56.7 146.7,57.3 147.8,57.9 148.9,58.5 150.0,59.1 151.1,59.7 152.2,60.3 153.3,61.0 154.5,61.6 155.6,62.3 156.7,63.0 157.8,63.7 158.9,64.4 160.0,65.1 161.1,65.9 162.2,66.7 163.3,67.6 164.4,68.5 165.5,69.4 166.7,70.4 167.8,71.4 168.9,72.4 170.0,73.4 171.1,74.5 172.2,75.6 173.3,76.7 174.4,77.8 175.5,78.9 176.6,80.0 177.8,81.1 178.9,82.2 180.0,83.3 181.1,84.4 182.2,85.5 183.3,86.6 184.4,87.7 185.5,88.9 186.6,90.0 187.7,91.2 188.8,92.4 190.0,93.6 191.1,94.9 192.2,96.2 193.3,97.6 194.4,99.0 195.5,100.5 196.6,102.1 197.7,103.7 198.8,105.3 199.9,107.0 201.1,108.7 202.2,110.5 203.3,112.3 204.4,114.2 205.5,116.1 206.6,118.1 207.7,120.2 208.8,122.3 209.9,124.6 211.0,126.8 212.1,129.2 213.3,131.7 214.4,134.2 215.5,136.8 216.6,139.6 217.8,142.4 219.1,145.4 220.3,148.5 221.6,151.7 222.8,155.1 224.0,158.6 225.3,162.3 226.4,166.2 227.6,170.3 228.7,174.6 229.8,179.2 230.9,184.1 232.0,189.3 233.1,194.8 234.2,200.7 235.3,207.1 236.4,214.0 237.6,221.4 238.7,229.5 239.7,238.4 240.5,248.0 241.2,258.3 242.1,269.2 243.2,279.8 244.3,288.9 245.4,294.7 246.5,296.2 247.7,286.2 248.8,270.4 250.1,255.8 251.6,243.3 252.9,232.6 254.0,223.5 255.1,215.5 256.2,208.4 257.3,202.1 258.4,196.4 259.5,191.2 260.7,186.4 261.8,182.0 262.9,177.9 264.0,174.2 265.1,170.6 266.2,167.3 267.3,164.2 268.3,161.2 269.4,158.5 270.4,155.8 271.4,153.3 272.5,150.9 273.5,148.7 274.5,146.5 275.6,144.4 276.6,142.4 277.6,140.5 278.7,138.7 279.8,136.9 280.9,135.2 282.0,133.5 283.2,131.9 284.3,130.4 285.4,128.9 286.5,127.4 287.6,126.0 288.7,124.6 289.8,123.3 290.9,122.0 292.0,120.7 293.1,119.4 294.3,118.2 295.4,117.0 296.5,115.9 297.6,114.7 298.7,113.6 299.8,112.5 300.9,111.5 302.0,110.5 303.1,109.5 304.2,108.5 305.3,107.5 306.5,106.6 307.6,105.7 308.7,104.8 309.8,103.9 310.9,103.0 312.0,102.2 313.1,101.4 314.2,100.6 315.3,99.8 316.4,99.1 317.6,98.3 318.7,97.6 319.8,96.9 320.9,96.2 322.0,95.5 323.1,94.9 324.2,94.2 325.3,93.6 326.4,93.0 327.5,92.4 328.6,91.8 329.8,91.2 330.9,90.7 332.0,90.1 333.1,89.6 334.2,89.1 335.3,88.6 336.4,88.0 337.5,87.6 338.6,87.1 339.7,86.6 340.9,86.1 342.0,85.7 343.1,85.2 344.2,84.8 345.3,84.4 346.4,83.9 347.5,83.5 348.6,83.1 349.7,82.7 350.8,82.3 351.9,81.9 353.1,81.5 354.2,81.1 355.3,80.7 356.4,80.3 357.5,80.0 358.6,79.6 359.7,79.2 360.8,78.9 361.9,78.5 363.0,78.1 364.2,77.8 365.3,77.4 366.4,77.1 367.5,76.8 368.6,76.4 369.7,76.1 370.8,75.8 371.9,75.5 373.0,75.1 374.1,74.8 375.2,74.5 376.4,74.3 377.5,74.0 378.6,73.8 379.7,73.5 380.8,73.3 381.9,73.0 383.0,72.8 384.1,72.5 385.2,72.3 386.3,72.1 387.5,71.9 388.6,71.6 389.7,71.4 390.8,71.2 391.9,71.0 393.0,70.8 394.1,70.5 395.2,70.3 396.3,70.1 397.4,69.9 398.5,69.7 399.7,69.5 400.8,69.3 401.9,69.1 403.0,68.9 404.1,68.7 405.2,68.5 406.3,68.3 407.4,68.1 408.5,67.9 409.6,67.7 410.8,67.5 411.9,67.4 413.0,67.2 414.1,67.0 415.2,66.8 416.3,66.7 417.4,66.5 418.5,66.3 419.6,66.1 420.7,66.0 421.8,65.8 423.0,65.6 424.1,65.5 425.2,65.3 426.3,65.2 427.4,65.0 428.5,64.9 429.6,64.7 430.7,64.6 431.8,64.4 432.9,64.3 434.1,64.1 435.2,64.0 436.3,63.8 437.4,63.7 438.5,63.6 439.6,63.4 440.7,63.3 441.8,63.1 442.9,63.0 444.0,62.9 445.1,62.7 446.3,62.6 447.4,62.4 448.5,62.3 449.6,62.1 450.7,62.0 451.8,61.8 452.9,61.7 454.0,61.5 455.1,61.4 456.2,61.2 457.4,61.1 458.5,60.9 459.6,60.8 460.7,60.6 461.8,60.5 462.9,60.3 464.0,60.2 465.1,60.0 466.2,59.9 467.3,59.7 468.4,59.6 469.6,59.5 470.7,59.3 471.8,59.2 472.9,59.1 474.0,58.9 475.1,58.8 476.2,58.7 477.3,58.5 478.4,58.4 479.5,58.3 480.7,58.2 481.8,58.1 482.9,58.0 484.0,57.9 485.1,57.8 486.2,57.7 487.3,57.6 488.4,57.5 489.5,57.4 490.6,57.3 491.7,57.2 492.9,57.1 494.0,57.0 495.1,56.9 496.2,56.8 497.3,56.7 498.4,56.6 499.5,56.5 500.6,56.4 501.7,56.3 502.8,56.2 504.0,56.1 505.1,56.0 506.2,55.9 507.3,55.9 508.4,55.8 509.5,55.7 510.6,55.6 511.7,55.5 512.8,55.5 513.9,55.4 515.0,55.3 516.2,55.2 517.3,55.1 518.4,55.1 519.5,55.0 520.6,54.9 521.7,54.9 522.8,54.8 523.9,54.7 525.0,54.6 526.1,54.6 527.3,54.5 528.4,54.4 529.5,54.4 530.6,54.3 531.7,54.2 532.8,54.2" fill="none" stroke="#000" stroke-width="1.5" stroke-linejoin="round"/>
<polyline points="66.8,37.5 67.9,37.6 69.0,37.8 70.1,38.0 71.2,38.2 72.3,38.3 73.5,38.5 74.6,38.7 75.7,38.9 76.8,39.0 77.9,39.2 79.0,39.4 80.1,39.5 81.2,39.7 82.3,39.8 83.4,39.9 84.6,40.1 85.7,40.2 86.8,40.4 87.9,40.5 89.0,40.7 90.1,40.8 91.2,41.0 92.3,41.1 93.4,41.3 94.5,41.4 95.6,41.6 96.8,41.8 97.9,42.0 99.0,42.2 100.1,42.4 101.2,42.7 102.3,42.9 103.4,43.1 104.5,43.4 105.6,43.6 106.7,43.9 107.9,44.1 109.0,44.4 110.1,44.7 111.2,45.0 112.3,45.2 113.4,45.5 114.5,45.8 115.6,46.1 116.7,46.4 117.8,46.7 118.9,47.1 120.1,47.4 121.2,47.7 122.3,48.1 123.4,48.4 124.5,48.8 125.6,49.1 126.7,49.5 127.8,49.9 128.9,50.3 130.0,50.7 131.2,51.0 132.3,51.4 133.4,51.7 134.5,52.1 135.6,52.5 136.7,52.9 137.8,53.3 138.9,53.7 140.0,54.2 141.1,54.7 142.2,55.2 143.4,55.7 144.5,56.2 145.6,56.7 146.7,57.3 147.8,57.9 148.9,58.5 150.0,59.1 151.1,59.7 152.2,60.3 153.3,61.0 154.5,61.6 155.6,62.3 156.7,63.0 157.8,63.7 158.9,64.4 160.0,65.1 161.1,65.9 162.2,66.7 163.3,67.6 164.4,68.5 165.5,69.4 166.7,70.4 167.8,71.4 168.9,72.4 170.0,73.4 171.1,74.5 172.2,75.6 173.3,76.7 174.4,77.8 175.5,78.9 176.6,80.0 177.8,81.1 178.9,82.2 180.0,83.3 181.1,84.4 182.2,85.5 183.3,86.6 184.4,87.7 185.5,88.9 186.6,90.0 187.7,91.2 188.8,92.4 190.0,93.6 191.1,94.9 192.2,96.2 193.3,97.6 194.4,99.0 195.5,100.5 196.6,102.1 197.7,103.7 198.8,105.3 199.9,107.0 201.1,108.7 202.2,110.5 203.3,112.3 204.4,114.2 205.5,116.1 206.6,118.1 207.7,120.2 208.8,122.3 209.9,124.6 211.0,126.8 212.1,129.2 213.3,131.7 214.4,134.2 215.5,136.8 216.6,139.6 217.8,142.4 219.1,145.4 220.3,148.5 221.6,151.7 222.8,155.1 224.0,158.6 225.3,162.3 226.4,166.2 227.6,170.3 228.7,174.6 229.8,179.2 230.9,184.1 232.0,189.3 233.1,194.8 234.2,200.7 235.3,207.1" fill="none" stroke="none" marker-start="url(#oBT)" marker-mid="url(#oBT)" marker-end="url(#oBT)"/>
<polyline points="66.8,37.5 67.9,37.6 69.0,37.8 70.1,38.0 71.2,38.2 72.3,38.3 73.5,38.5 74.6,38.7 75.7,38.9 76.8,39.0 77.9,39.2 79.0,39.4 80.1,39.5 81.2,39.7 82.3,39.8 83.4,39.9 84.6,40.1 85.7,40.2 86.8,40.4 87.9,40.5 89.0,40.7 90.1,40.8 91.2,41.0 92.3,41.1 93.4,41.3 94.5,41.4 95.6,41.6 96.8,41.8 97.9,42.0 99.0,42.2 100.1,42.4 101.2,42.7 102.3,42.9 103.4,43.1 104.5,43.4 105.6,43.6 106.7,43.9 107.9,44.1 109.0,44.4 110.1,44.7 111.2,45.0 112.3,45.2 113.4,45.5 114.5,45.8 115.6,46.1 116.7,46.4 117.8,46.7 118.9,47.1 120.1,47.4 121.2,47.7 122.3,48.1 123.4,48.4 124.5,48.8 125.6,49.1 126.7,49.5 127.8,49.9 128.9,50.3 130.0,50.7 131.2,51.0 132.3,51.4 133.4,51.7 134.5,52.1 135.6,52.5 136.7,52.9 137.8,53.3 138.9,53.7 140.0,54.2 141.1,54.7 142.2,55.2 143.4,55.7 144.5,56.2 145.6,56.7 146.7,57.3 147.8,57.9 148.9,58.5 150.0,59.1 151.1,59.7 152.2,60.3 153.3,61.0 154.5,61.6 155.6,62.3 156.7,63.0 157.8,63.7 158.9,64.4 160.0,65.1 161.1,65.9 162.2,66.7 163.3,67.6 164.4,68.5 165.5,69.4 166.7,70.4 167.8,71.4 168.9,72.4 170.0,73.4 171.1,74.5 172.2,75.6 173.3,76.7 174.4,77.8 175.5,78.9 176.6,80.0 177.8,81.1 178.9,82.2 180.0,83.3 181.1,84.4 182.2,85.5 183.3,86.6 184.4,87.7 185.5,88.9 186.6,90.0 187.7,91.2 188.8,92.4 190.0,93.6 191.1,94.9 192.2,96.2 193.3,97.6 194.4,99.0 195.5,100.5 196.6,102.1 197.7,103.7 198.8,105.3 199.9,107.0 201.1,108.7 202.2,110.5 203.3,112.3 204.4,114.2 205.5,116.1 206.6,118.1 207.7,120.2 208.8,122.3 209.9,124.6 211.0,126.8 212.1,129.2 213.3,131.7 214.4,134.2 215.5,136.8 216.6,139.6 217.8,142.4 219.1,145.4 220.3,148.5 221.6,151.7 222.8,155.1 224.0,158.6 225.3,162.3 226.4,166.2 227.6,170.3 228.7,174.6 229.8,179.2 230.9,184.1 232.0,189.3 233.1,194.8 234.2,200.7 235.3,207.1" fill="none" stroke="none" marker-start="url(#iBT)" marker-mid="url(#iBT)" marker-end="url(#iBT)"/>
<polyline points="236.4,214.0 237.6,221.4 238.7,229.5 239.7,238.4 240.5,248.0 241.2,258.3 242.1,269.2 243.2,279.8 244.3,288.9" fill="none" stroke="none" marker-start="url(#sBT)" marker-mid="url(#sBT)" marker-end="url(#sBT)"/>
<polyline points="245.4,294.7 246.5,296.2" fill="none" stroke="none" marker-start="url(#oBT)" marker-mid="url(#oBT)" marker-end="url(#oBT)"/>
<polyline points="245.4,294.7 246.5,296.2" fill="none" stroke="none" marker-start="url(#iBT)" marker-mid="url(#iBT)" marker-end="url(#iBT)"/>
<polyline points="247.7,286.2 248.8,270.4 250.1,255.8 251.6,243.3 252.9,232.6 254.0,223.5 255.1,215.5 256.2,208.4" fill="none" stroke="none" marker-start="url(#sBT)" marker-mid="url(#sBT)" marker-end="url(#sBT)"/>
<polyline points="257.3,202.1 258.4,196.4 259.5,191.2 260.7,186.4 261.8,182.0 262.9,177.9 264.0,174.2 265.1,170.6 266.2,167.3 267.3,164.2 268.3,161.2 269.4,158.5 270.4,155.8 271.4,153.3 272.5,150.9 273.5,148.7 274.5,146.5 275.6,144.4 276.6,142.4 277.6,140.5 278.7,138.7 279.8,136.9 280.9,135.2 282.0,133.5 283.2,131.9 284.3,130.4 285.4,128.9 286.5,127.4 287.6,126.0 288.7,124.6 289.8,123.3 290.9,122.0 292.0,120.7 293.1,119.4 294.3,118.2 295.4,117.0 296.5,115.9 297.6,114.7 298.7,113.6 299.8,112.5 300.9,111.5 302.0,110.5 303.1,109.5 304.2,108.5 305.3,107.5 306.5,106.6 307.6,105.7 308.7,104.8 309.8,103.9 310.9,103.0 312.0,102.2 313.1,101.4 314.2,100.6 315.3,99.8 316.4,99.1 317.6,98.3 318.7,97.6 319.8,96.9 320.9,96.2 322.0,95.5 323.1,94.9 324.2,94.2 325.3,93.6 326.4,93.0 327.5,92.4 328.6,91.8 329.8,91.2 330.9,90.7 332.0,90.1 333.1,89.6 334.2,89.1 335.3,88.6 336.4,88.0 337.5,87.6 338.6,87.1 339.7,86.6 340.9,86.1 342.0,85.7 343.1,85.2 344.2,84.8 345.3,84.4 346.4,83.9 347.5,83.5 348.6,83.1 349.7,82.7 350.8,82.3 351.9,81.9 353.1,81.5 354.2,81.1 355.3,80.7 356.4,80.3 357.5,80.0 358.6,79.6 359.7,79.2 360.8,78.9 361.9,78.5 363.0,78.1 364.2,77.8 365.3,77.4 366.4,77.1 367.5,76.8 368.6,76.4 369.7,76.1 370.8,75.8 371.9,75.5 373.0,75.1 374.1,74.8 375.2,74.5 376.4,74.3 377.5,74.0 378.6,73.8 379.7,73.5 380.8,73.3 381.9,73.0 383.0,72.8 384.1,72.5 385.2,72.3 386.3,72.1 387.5,71.9 388.6,71.6 389.7,71.4 390.8,71.2 391.9,71.0 393.0,70.8 394.1,70.5 395.2,70.3 396.3,70.1 397.4,69.9 398.5,69.7 399.7,69.5 400.8,69.3 401.9,69.1 403.0,68.9 404.1,68.7 405.2,68.5 406.3,68.3 407.4,68.1 408.5,67.9 409.6,67.7 410.8,67.5 411.9,67.4 413.0,67.2 414.1,67.0 415.2,66.8 416.3,66.7 417.4,66.5 418.5,66.3 419.6,66.1 420.7,66.0 421.8,65.8 423.0,65.6 424.1,65.5 425.2,65.3 426.3,65.2 427.4,65.0 428.5,64.9 429.6,64.7 430.7,64.6 431.8,64.4 432.9,64.3 434.1,64.1 435.2,64.0 436.3,63.8 437.4,63.7 438.5,63.6 439.6,63.4 440.7,63.3 441.8,63.1 442.9,63.0 444.0,62.9 445.1,62.7 446.3,62.6 447.4,62.4 448.5,62.3 449.6,62.1 450.7,62.0 451.8,61.8 452.9,61.7 454.0,61.5 455.1,61.4 456.2,61.2 457.4,61.1 458.5,60.9 459.6,60.8 460.7,60.6 461.8,60.5 462.9,60.3 464.0,60.2 465.1,60.0 466.2,59.9 467.3,59.7 468.4,59.6 469.6,59.5 470.7,59.3 471.8,59.2 472.9,59.1 474.0,58.9 475.1,58.8 476.2,58.7 477.3,58.5 478.4,58.4 479.5,58.3 480.7,58.2 481.8,58.1 482.9,58.0 484.0,57.9 485.1,57.8 486.2,57.7 487.3,57.6 488.4,57.5 489.5,57.4 490.6,57.3 491.7,57.2 492.9,57.1 494.0,57.0 495.1,56.9 496.2,56.8 497.3,56.7 498.4,56.6 499.5,56.5 500.6,56.4 501.7,56.3 502.8,56.2 504.0,56.1 505.1,56.0 506.2,55.9 507.3,55.9 508.4,55.8 509.5,55.7 510.6,55.6 511.7,55.5 512.8,55.5 513.9,55.4 515.0,55.3 516.2,55.2 517.3,55.1 518.4,55.1 519.5,55.0 520.6,54.9 521.7,54.9 522.8,54.8 523.9,54.7 525.0,54.6 526.1,54.6 527.3,54.5 528.4,54.4 529.5,54.4 530.6,54.3 531.7,54.2 532.8,54.2" fill="none" stroke="none" marker-start="url(#oBT)" marker-mid="url(#oBT)" marker-end="url(#oBT)"/>
<polyline points="257.3,202.1 258.4,196.4 259.5,191.2 260.7,186.4 261.8,182.0 262.9,177.9 264.0,174.2 265.1,170.6 266.2,167.3 267.3,164.2 268.3,161.2 269.4,158.5 270.4,155.8 271.4,153.3 272.5,150.9 273.5,148.7 274.5,146.5 275.6,144.4 276.6,142.4 277.6,140.5 278.7,138.7 279.8,136.9 280.9,135.2 282.0,133.5 283.2,131.9 284.3,130.4 285.4,128.9 286.5,127.4 287.6,126.0 288.7,124.6 289.8,123.3 290.9,122.0 292.0,120.7 293.1,119.4 294.3,118.2 295.4,117.0 296.5,115.9 297.6,114.7 298.7,113.6 299.8,112.5 300.9,111.5 302.0,110.5 303.1,109.5 304.2,108.5 305.3,107.5 306.5,106.6 307.6,105.7 308.7,104.8 309.8,103.9 310.9,103.0 312.0,102.2 313.1,101.4 314.2,100.6 315.3,99.8 316.4,99.1 317.6,98.3 318.7,97.6 319.8,96.9 320.9,96.2 322.0,95.5 323.1,94.9 324.2,94.2 325.3,93.6 326.4,93.0 327.5,92.4 328.6,91.8 329.8,91.2 330.9,90.7 332.0,90.1 333.1,89.6 334.2,89.1 335.3,88.6 336.4,88.0 337.5,87.6 338.6,87.1 339.7,86.6 340.9,86.1 342.0,85.7 343.1,85.2 344.2,84.8 345.3,84.4 346.4,83.9 347.5,83.5 348.6,83.1 349.7,82.7 350.8,82.3 351.9,81.9 353.1,81.5 354.2,81.1 355.3,80.7 356.4,80.3 357.5,80.0 358.6,79.6 359.7,79.2 360.8,78.9 361.9,78.5 363.0,78.1 364.2,77.8 365.3,77.4 366.4,77.1 367.5,76.8 368.6,76.4 369.7,76.1 370.8,75.8 371.9,75.5 373.0,75.1 374.1,74.8 375.2,74.5 376.4,74.3 377.5,74.0 378.6,73.8 379.7,73.5 380.8,73.3 381.9,73.0 383.0,72.8 384.1,72.5 385.2,72.3 386.3,72.1 387.5,71.9 388.6,71.6 389.7,71.4 390.8,71.2 391.9,71.0 393.0,70.8 394.1,70.5 395.2,70.3 396.3,70.1 397.4,69.9 398.5,69.7 399.7,69.5 400.8,69.3 401.9,69.1 403.0,68.9 404.1,68.7 405.2,68.5 406.3,68.3 407.4,68.1 408.5,67.9 409.6,67.7 410.8,67.5 411.9,67.4 413.0,67.2 414.1,67.0 415.2,66.8 416.3,66.7 417.4,66.5 418.5,66.3 419.6,66.1 420.7,66.0 421.8,65.8 423.0,65.6 424.1,65.5 425.2,65.3 426.3,65.2 427.4,65.0 428.5,64.9 429.6,64.7 430.7,64.6 431.8,64.4 432.9,64.3 434.1,64.1 435.2,64.0 436.3,63.8 437.4,63.7 438.5,63.6 439.6,63.4 440.7,63.3 441.8,63.1 442.9,63.0 444.0,62.9 445.1,62.7 446.3,62.6 447.4,62.4 448.5,62.3 449.6,62.1 450.7,62.0 451.8,61.8 452.9,61.7 454.0,61.5 455.1,61.4 456.2,61.2 457.4,61.1 458.5,60.9 459.6,60.8 460.7,60.6 461.8,60.5 462.9,60.3 464.0,60.2 465.1,60.0 466.2,59.9 467.3,59.7 468.4,59.6 469.6,59.5 470.7,59.3 471.8,59.2 472.9,59.1 474.0,58.9 475.1,58.8 476.2,58.7 477.3,58.5 478.4,58.4 479.5,58.3 480.7,58.2 481.8,58.1 482.9,58.0 484.0,57.9 485.1,57.8 486.2,57.7 487.3,57.6 488.4,57.5 489.5,57.4 490.6,57.3 491.7,57.2 492.9,57.1 494.0,57.0 495.1,56.9 496.2,56.8 497.3,56.7 498.4,56.6 499.5,56.5 500.6,56.4 501.7,56.3 502.8,56.2 504.0,56.1 505.1,56.0 506.2,55.9 507.3,55.9 508.4,55.8 509.5,55.7 510.6,55.6 511.7,55.5 512.8,55.5 513.9,55.4 515.0,55.3 516.2,55.2 517.3,55.1 518.4,55.1 519.5,55.0 520.6,54.9 521.7,54.9 522.8,54.8 523.9,54.7 525.0,54.6 526.1,54.6 527.3,54.5 528.4,54.4 529.5,54.4 530.6,54.3 531.7,54.2 532.8,54.2" fill="none" stroke="none" marker-start="url(#iBT)" marker-mid="url(#iBT)" marker-end="url(#iBT)"/>
<polyline points="66.8,40.7 67.9,40.9 69.0,41.1 70.1,41.3 71.2,41.5 72.3,41.7 73.5,41.9 74.6,42.2 75.7,42.4 76.8,42.6 77.9,42.8 79.0,43.0 80.1,43.2 81.2,43.4 82.3,43.5 83.4,43.7 84.6,43.9 85.7,44.1 86.8,44.3 87.9,44.5 89.0,44.7 90.1,45.0 91.2,45.2 92.3,45.4 93.4,45.7 94.5,45.9 95.6,46.2 96.8,46.5 97.9,46.8 99.0,47.1 100.1,47.4 101.2,47.7 102.3,48.1 103.4,48.4 104.5,48.8 105.6,49.1 106.7,49.5 107.9,49.9 109.0,50.3 110.1,50.7 111.2,51.1 112.3,51.5 113.4,52.0 114.5,52.4 115.6,52.9 116.7,53.3 117.8,53.8 118.9,54.3 120.1,54.8 121.2,55.3 122.3,55.8 123.4,56.3 124.5,56.8 125.6,57.3 126.7,57.9 127.8,58.5 128.9,59.0 130.0,59.6 131.2,60.2 132.3,60.8 133.4,61.4 134.5,62.1 135.6,62.7 136.7,63.4 137.8,64.1 138.9,64.8 140.0,65.5 141.1,66.2 142.2,66.9 143.4,67.7 144.5,68.5 145.6,69.3 146.7,70.1 147.8,70.9 148.9,71.7 150.0,72.6 151.1,73.5 152.2,74.4 153.3,75.3 154.5,76.2 155.6,77.2 156.7,78.2 157.8,79.2 158.9,80.2 160.0,81.2 161.1,82.3 162.2,83.4 163.3,84.5 164.4,85.7 165.5,86.8 166.7,88.0 167.8,89.3 168.9,90.6 170.0,91.9 171.1,93.2 172.2,94.6 173.3,96.0 174.4,97.4 175.5,98.9 176.6,100.4 177.8,102.0 178.9,103.6 180.0,105.3 181.1,107.0 182.2,108.8 183.3,110.6 184.4,112.5 185.5,114.4 186.6,116.4 187.7,118.4 188.8,120.6 190.0,122.8 191.1,125.0 192.2,127.4 193.3,129.8 194.4,132.3 195.5,134.9 196.6,137.6 197.7,140.5 198.8,143.4 199.9,146.4 201.1,149.6 202.2,153.0 203.3,156.4 204.4,160.1 205.5,163.9 206.6,168.0 207.7,172.2 208.8,176.7 209.9,181.5 211.0,186.5 212.1,191.9 213.3,197.7 214.4,203.8 215.5,210.5 216.6,217.7 217.7,225.5 218.8,234.1 219.9,243.3 221.0,253.4 222.1,264.1 223.2,275.0 224.4,285.3 225.5,293.3 226.6,297.3 227.7,295.1 228.8,278.2 229.9,261.1 231.5,246.8 232.9,235.0 234.0,225.1 235.1,216.7 236.2,209.3 237.4,202.7 238.5,196.8 239.6,191.5 240.7,186.7 241.8,182.3 242.9,178.2 244.0,174.3 245.1,170.8 246.2,167.4 247.3,164.3 248.4,161.3 249.4,158.5 250.4,155.9 251.5,153.4 252.5,151.1 253.5,148.9 254.6,146.8 255.6,144.7 256.6,142.8 257.7,140.9 258.7,139.1 259.9,137.4 261.0,135.7 262.1,134.1 263.2,132.6 264.3,131.0 265.4,129.6 266.5,128.1 267.6,126.7 268.7,125.4 269.8,124.1 271.0,122.8 272.1,121.5 273.2,120.3 274.3,119.1 275.4,117.9 276.5,116.8 277.6,115.7 278.7,114.6 279.8,113.6 280.9,112.5 282.0,111.6 283.2,110.6 284.3,109.6 285.4,108.7 286.5,107.8 287.6,106.9 288.7,106.1 289.8,105.3 290.9,104.4 292.0,103.6 293.1,102.9 294.3,102.1 295.4,101.4 296.5,100.6 297.6,99.9 298.7,99.2 299.8,98.5 300.9,97.9 302.0,97.2 303.1,96.6 304.2,95.9 305.3,95.3 306.5,94.7 307.6,94.1 308.7,93.5 309.8,93.0 310.9,92.4 312.0,91.9 313.1,91.3 314.2,90.8 315.3,90.2 316.4,89.7 317.6,89.2 318.7,88.7 319.8,88.1 320.9,87.6 322.0,87.1 323.1,86.6 324.2,86.2 325.3,85.7 326.4,85.2 327.5,84.7 328.6,84.3 329.8,83.8 330.9,83.4 332.0,82.9 333.1,82.5 334.2,82.1 335.3,81.6 336.4,81.2 337.5,80.8 338.6,80.4 339.7,80.0 340.9,79.6 342.0,79.2 343.1,78.9 344.2,78.5 345.3,78.1 346.4,77.7 347.5,77.4 348.6,77.0 349.7,76.7 350.8,76.3 351.9,76.0 353.1,75.6 354.2,75.3 355.3,75.0 356.4,74.6 357.5,74.3 358.6,74.0 359.7,73.7 360.8,73.4 361.9,73.1 363.0,72.8 364.2,72.5 365.3,72.3 366.4,72.0 367.5,71.8 368.6,71.5 369.7,71.3 370.8,71.0 371.9,70.8 373.0,70.5 374.1,70.3 375.2,70.1 376.4,69.8 377.5,69.6 378.6,69.4 379.7,69.2 380.8,68.9 381.9,68.7 383.0,68.5 384.1,68.3 385.2,68.1 386.3,67.9 387.5,67.7 388.6,67.5 389.7,67.3 390.8,67.1 391.9,66.9 393.0,66.7 394.1,66.5 395.2,66.3 396.3,66.1 397.4,65.9 398.5,65.8 399.7,65.6 400.8,65.4 401.9,65.2 403.0,65.0 404.1,64.9 405.2,64.7 406.3,64.5 407.4,64.3 408.5,64.1 409.6,64.0 410.8,63.8 411.9,63.6 413.0,63.4 414.1,63.3 415.2,63.1 416.3,62.9 417.4,62.8 418.5,62.6 419.6,62.4 420.7,62.3 421.8,62.1 423.0,61.9 424.1,61.8 425.2,61.6 426.3,61.4 427.4,61.3 428.5,61.1 429.6,61.0 430.7,60.8 431.8,60.7 432.9,60.5 434.1,60.4 435.2,60.2 436.3,60.1 437.4,59.9 438.5,59.8 439.6,59.6 440.7,59.5 441.8,59.4 442.9,59.2 444.0,59.1 445.1,58.9 446.3,58.8 447.4,58.6 448.5,58.5 449.6,58.4 450.7,58.2 451.8,58.1 452.9,57.9 454.0,57.8 455.1,57.7 456.2,57.5 457.4,57.4 458.5,57.2 459.6,57.1 460.7,57.0 461.8,56.8 462.9,56.7 464.0,56.6 465.1,56.4 466.2,56.3 467.3,56.2 468.4,56.1 469.6,56.0 470.7,55.8 471.8,55.7 472.9,55.6 474.0,55.5 475.1,55.4 476.2,55.3 477.3,55.2 478.4,55.1 479.5,55.0 480.7,54.9 481.8,54.8 482.9,54.8 484.0,54.7 485.1,54.6 486.2,54.5 487.3,54.4 488.4,54.3 489.5,54.3 490.6,54.2 491.7,54.1 492.9,54.0 494.0,53.9 495.1,53.9 496.2,53.8 497.3,53.7 498.4,53.6 499.5,53.6 500.6,53.5 501.7,53.4 502.8,53.4 504.0,53.3 505.1,53.2 506.2,53.1 507.3,53.1 508.4,53.0 509.5,52.9 510.6,52.9 511.7,52.8 512.8,52.8 513.9,52.7 515.0,52.6 516.2,52.6 517.3,52.5 518.4,52.5 519.5,52.4 520.6,52.3 521.7,52.3 522.8,52.2 523.9,52.2 525.0,52.1 526.1,52.1 527.3,52.0 528.4,52.0 529.5,51.9 530.6,51.9 531.7,51.8 532.8,51.8" fill="none" stroke="#000" stroke-width="1.5" stroke-linejoin="round"/>
<polyline points="66.8,40.7 67.9,40.9 69.0,41.1 70.1,41.3 71.2,41.5 72.3,41.7 73.5,41.9 74.6,42.2 75.7,42.4 76.8,42.6 77.9,42.8 79.0,43.0 80.1,43.2 81.2,43.4 82.3,43.5 83.4,43.7 84.6,43.9 85.7,44.1 86.8,44.3 87.9,44.5 89.0,44.7 90.1,45.0 91.2,45.2 92.3,45.4 93.4,45.7 94.5,45.9 95.6,46.2 96.8,46.5 97.9,46.8 99.0,47.1 100.1,47.4 101.2,47.7 102.3,48.1 103.4,48.4 104.5,48.8 105.6,49.1 106.7,49.5 107.9,49.9 109.0,50.3 110.1,50.7 111.2,51.1 112.3,51.5 113.4,52.0 114.5,52.4 115.6,52.9 116.7,53.3 117.8,53.8 118.9,54.3 120.1,54.8 121.2,55.3 122.3,55.8 123.4,56.3 124.5,56.8 125.6,57.3 126.7,57.9 127.8,58.5 128.9,59.0 130.0,59.6 131.2,60.2 132.3,60.8 133.4,61.4 134.5,62.1 135.6,62.7 136.7,63.4 137.8,64.1 138.9,64.8 140.0,65.5 141.1,66.2 142.2,66.9 143.4,67.7 144.5,68.5 145.6,69.3 146.7,70.1 147.8,70.9 148.9,71.7 150.0,72.6 151.1,73.5 152.2,74.4 153.3,75.3 154.5,76.2 155.6,77.2 156.7,78.2 157.8,79.2 158.9,80.2 160.0,81.2 161.1,82.3 162.2,83.4 163.3,84.5 164.4,85.7 165.5,86.8 166.7,88.0 167.8,89.3 168.9,90.6 170.0,91.9 171.1,93.2 172.2,94.6 173.3,96.0" fill="none" stroke="none" marker-start="url(#oMG)" marker-mid="url(#oMG)" marker-end="url(#oMG)"/>
<polyline points="66.8,40.7 67.9,40.9 69.0,41.1 70.1,41.3 71.2,41.5 72.3,41.7 73.5,41.9 74.6,42.2 75.7,42.4 76.8,42.6 77.9,42.8 79.0,43.0 80.1,43.2 81.2,43.4 82.3,43.5 83.4,43.7 84.6,43.9 85.7,44.1 86.8,44.3 87.9,44.5 89.0,44.7 90.1,45.0 91.2,45.2 92.3,45.4 93.4,45.7 94.5,45.9 95.6,46.2 96.8,46.5 97.9,46.8 99.0,47.1 100.1,47.4 101.2,47.7 102.3,48.1 103.4,48.4 104.5,48.8 105.6,49.1 106.7,49.5 107.9,49.9 109.0,50.3 110.1,50.7 111.2,51.1 112.3,51.5 113.4,52.0 114.5,52.4 115.6,52.9 116.7,53.3 117.8,53.8 118.9,54.3 120.1,54.8 121.2,55.3 122.3,55.8 123.4,56.3 124.5,56.8 125.6,57.3 126.7,57.9 127.8,58.5 128.9,59.0 130.0,59.6 131.2,60.2 132.3,60.8 133.4,61.4 134.5,62.1 135.6,62.7 136.7,63.4 137.8,64.1 138.9,64.8 140.0,65.5 141.1,66.2 142.2,66.9 143.4,67.7 144.5,68.5 145.6,69.3 146.7,70.1 147.8,70.9 148.9,71.7 150.0,72.6 151.1,73.5 152.2,74.4 153.3,75.3 154.5,76.2 155.6,77.2 156.7,78.2 157.8,79.2 158.9,80.2 160.0,81.2 161.1,82.3 162.2,83.4 163.3,84.5 164.4,85.7 165.5,86.8 166.7,88.0 167.8,89.3 168.9,90.6 170.0,91.9 171.1,93.2 172.2,94.6 173.3,96.0" fill="none" stroke="none" marker-start="url(#iMG)" marker-mid="url(#iMG)" marker-end="url(#iMG)"/>
<polyline points="66.8,40.7 67.9,40.9 69.0,41.1 70.1,41.3 71.2,41.5 72.3,41.7 73.5,41.9 74.6,42.2 75.7,42.4 76.8,42.6 77.9,42.8 79.0,43.0 80.1,43.2 81.2,43.4 82.3,43.5 83.4,43.7 84.6,43.9 85.7,44.1 86.8,44.3 87.9,44.5 89.0,44.7 90.1,45.0 91.2,45.2 92.3,45.4 93.4,45.7 94.5,45.9 95.6,46.2 96.8,46.5 97.9,46.8 99.0,47.1 100.1,47.4 101.2,47.7 102.3,48.1 103.4,48.4 104.5,48.8 105.6,49.1 106.7,49.5 107.9,49.9 109.0,50.3 110.1,50.7 111.2,51.1 112.3,51.5 113.4,52.0 114.5,52.4 115.6,52.9 116.7,53.3 117.8,53.8 118.9,54.3 120.1,54.8 121.2,55.3 122.3,55.8 123.4,56.3 124.5,56.8 125.6,57.3 126.7,57.9 127.8,58.5 128.9,59.0 130.0,59.6 131.2,60.2 132.3,60.8 133.4,61.4 134.5,62.1 135.6,62.7 136.7,63.4 137.8,64.1 138.9,64.8 140.0,65.5 141.1,66.2 142.2,66.9 143.4,67.7 144.5,68.5 145.6,69.3 146.7,70.1 147.8,70.9 148.9,71.7 150.0,72.6 151.1,73.5 152.2,74.4 153.3,75.3 154.5,76.2 155.6,77.2 156.7,78.2 157.8,79.2 158.9,80.2 160.0,81.2 161.1,82.3 162.2,83.4 163.3,84.5 164.4,85.7 165.5,86.8 166.7,88.0 167.8,89.3 168.9,90.6 170.0,91.9 171.1,93.2 172.2,94.6 173.3,96.0 174.4,97.4" fill="none" stroke="#000080" stroke-width="2" stroke-linejoin="round"/>
<polyline points="174.4,97.4 175.5,98.9 176.6,100.4 177.8,102.0 178.9,103.6 180.0,105.3 181.1,107.0 182.2,108.8 183.3,110.6 184.4,112.5 185.5,114.4 186.6,116.4 187.7,118.4 188.8,120.6 190.0,122.8 191.1,125.0 192.2,127.4 193.3,129.8 194.4,132.3 195.5,134.9 196.6,137.6 197.7,140.5 198.8,143.4 199.9,146.4 201.1,149.6 202.2,153.0 203.3,156.4 204.4,160.1 205.5,163.9 206.6,168.0 207.7,172.2 208.8,176.7 209.9,181.5 211.0,186.5 212.1,191.9 213.3,197.7 214.4,203.8 215.5,210.5 216.6,217.7 217.7,225.5 218.8,234.1 219.9,243.3 221.0,253.4 222.1,264.1 223.2,275.0 224.4,285.3 225.5,293.3" fill="none" stroke="none" marker-start="url(#sMG)" marker-mid="url(#sMG)" marker-end="url(#sMG)"/>
<polyline points="226.6,297.3" fill="none" stroke="none" marker-start="url(#oMG)" marker-mid="url(#oMG)" marker-end="url(#oMG)"/>
<polyline points="226.6,297.3" fill="none" stroke="none" marker-start="url(#iMG)" marker-mid="url(#iMG)" marker-end="url(#iMG)"/>
<polyline points="225.5,293.3 226.6,297.3 227.7,295.1" fill="none" stroke="#000080" stroke-width="2" stroke-linejoin="round"/>
<polyline points="227.7,295.1 228.8,278.2 229.9,261.1 231.5,246.8 232.9,235.0 234.0,225.1 235.1,216.7 236.2,209.3 237.4,202.7 238.5,196.8 239.6,191.5 240.7,186.7 241.8,182.3 242.9,178.2 244.0,174.3 245.1,170.8 246.2,167.4 247.3,164.3 248.4,161.3 249.4,158.5 250.4,155.9 251.5,153.4 252.5,151.1 253.5,148.9 254.6,146.8 255.6,144.7 256.6,142.8 257.7,140.9 258.7,139.1 259.9,137.4 261.0,135.7 262.1,134.1 263.2,132.6 264.3,131.0 265.4,129.6" fill="none" stroke="none" marker-start="url(#sMG)" marker-mid="url(#sMG)" marker-end="url(#sMG)"/>
<polyline points="266.5,128.1 267.6,126.7 268.7,125.4 269.8,124.1 271.0,122.8 272.1,121.5 273.2,120.3 274.3,119.1 275.4,117.9 276.5,116.8 277.6,115.7 278.7,114.6 279.8,113.6 280.9,112.5 282.0,111.6 283.2,110.6 284.3,109.6 285.4,108.7 286.5,107.8 287.6,106.9 288.7,106.1 289.8,105.3 290.9,104.4 292.0,103.6 293.1,102.9 294.3,102.1 295.4,101.4 296.5,100.6 297.6,99.9 298.7,99.2 299.8,98.5 300.9,97.9 302.0,97.2 303.1,96.6 304.2,95.9 305.3,95.3 306.5,94.7 307.6,94.1 308.7,93.5 309.8,93.0 310.9,92.4 312.0,91.9 313.1,91.3 314.2,90.8 315.3,90.2 316.4,89.7 317.6,89.2 318.7,88.7 319.8,88.1 320.9,87.6 322.0,87.1 323.1,86.6 324.2,86.2 325.3,85.7 326.4,85.2 327.5,84.7 328.6,84.3 329.8,83.8 330.9,83.4 332.0,82.9 333.1,82.5 334.2,82.1 335.3,81.6 336.4,81.2 337.5,80.8 338.6,80.4 339.7,80.0 340.9,79.6 342.0,79.2 343.1,78.9 344.2,78.5 345.3,78.1 346.4,77.7 347.5,77.4 348.6,77.0 349.7,76.7 350.8,76.3 351.9,76.0 353.1,75.6 354.2,75.3 355.3,75.0 356.4,74.6 357.5,74.3 358.6,74.0 359.7,73.7 360.8,73.4 361.9,73.1 363.0,72.8 364.2,72.5 365.3,72.3 366.4,72.0 367.5,71.8 368.6,71.5 369.7,71.3 370.8,71.0 371.9,70.8 373.0,70.5 374.1,70.3 375.2,70.1 376.4,69.8 377.5,69.6 378.6,69.4 379.7,69.2 380.8,68.9 381.9,68.7 383.0,68.5 384.1,68.3 385.2,68.1 386.3,67.9 387.5,67.7 388.6,67.5 389.7,67.3 390.8,67.1 391.9,66.9 393.0,66.7 394.1,66.5 395.2,66.3 396.3,66.1 397.4,65.9 398.5,65.8 399.7,65.6 400.8,65.4 401.9,65.2 403.0,65.0 404.1,64.9 405.2,64.7 406.3,64.5 407.4,64.3 408.5,64.1 409.6,64.0 410.8,63.8 411.9,63.6 413.0,63.4 414.1,63.3 415.2,63.1 416.3,62.9 417.4,62.8 418.5,62.6 419.6,62.4 420.7,62.3 421.8,62.1 423.0,61.9 424.1,61.8 425.2,61.6 426.3,61.4 427.4,61.3 428.5,61.1 429.6,61.0 430.7,60.8 431.8,60.7 432.9,60.5 434.1,60.4 435.2,60.2 436.3,60.1 437.4,59.9 438.5,59.8 439.6,59.6 440.7,59.5 441.8,59.4 442.9,59.2 444.0,59.1 445.1,58.9 446.3,58.8 447.4,58.6 448.5,58.5 449.6,58.4 450.7,58.2 451.8,58.1 452.9,57.9 454.0,57.8 455.1,57.7 456.2,57.5 457.4,57.4 458.5,57.2 459.6,57.1 460.7,57.0 461.8,56.8 462.9,56.7 464.0,56.6 465.1,56.4 466.2,56.3 467.3,56.2 468.4,56.1 469.6,56.0 470.7,55.8 471.8,55.7 472.9,55.6 474.0,55.5 475.1,55.4 476.2,55.3 477.3,55.2 478.4,55.1 479.5,55.0 480.7,54.9 481.8,54.8 482.9,54.8 484.0,54.7 485.1,54.6 486.2,54.5 487.3,54.4 488.4,54.3 489.5,54.3 490.6,54.2 491.7,54.1 492.9,54.0 494.0,53.9 495.1,53.9 496.2,53.8 497.3,53.7 498.4,53.6 499.5,53.6 500.6,53.5 501.7,53.4 502.8,53.4 504.0,53.3 505.1,53.2 506.2,53.1 507.3,53.1 508.4,53.0 509.5,52.9 510.6,52.9 511.7,52.8 512.8,52.8 513.9,52.7 515.0,52.6 516.2,52.6 517.3,52.5 518.4,52.5 519.5,52.4 520.6,52.3 521.7,52.3 522.8,52.2 523.9,52.2 525.0,52.1 526.1,52.1 527.3,52.0 528.4,52.0 529.5,51.9 530.6,51.9 531.7,51.8 532.8,51.8" fill="none" stroke="none" marker-start="url(#oMG)" marker-mid="url(#oMG)" marker-end="url(#oMG)"/>
<polyline points="266.5,128.1 267.6,126.7 268.7,125.4 269.8,124.1 271.0,122.8 272.1,121.5 273.2,120.3 274.3,119.1 275.4,117.9 276.5,116.8 277.6,115.7 278.7,114.6 279.8,113.6 280.9,112.5 282.0,111.6 283.2,110.6 284.3,109.6 285.4,108.7 286.5,107.8 287.6,106.9 288.7,106.1 289.8,105.3 290.9,104.4 292.0,103.6 293.1,102.9 294.3,102.1 295.4,101.4 296.5,100.6 297.6,99.9 298.7,99.2 299.8,98.5 300.9,97.9 302.0,97.2 303.1,96.6 304.2,95.9 305.3,95.3 306.5,94.7 307.6,94.1 308.7,93.5 309.8,93.0 310.9,92.4 312.0,91.9 313.1,91.3 314.2,90.8 315.3,90.2 316.4,89.7 317.6,89.2 318.7,88.7 319.8,88.1 320.9,87.6 322.0,87.1 323.1,86.6 324.2,86.2 325.3,85.7 326.4,85.2 327.5,84.7 328.6,84.3 329.8,83.8 330.9,83.4 332.0,82.9 333.1,82.5 334.2,82.1 335.3,81.6 336.4,81.2 337.5,80.8 338.6,80.4 339.7,80.0 340.9,79.6 342.0,79.2 343.1,78.9 344.2,78.5 345.3,78.1 346.4,77.7 347.5,77.4 348.6,77.0 349.7,76.7 350.8,76.3 351.9,76.0 353.1,75.6 354.2,75.3 355.3,75.0 356.4,74.6 357.5,74.3 358.6,74.0 359.7,73.7 360.8,73.4 361.9,73.1 363.0,72.8 364.2,72.5 365.3,72.3 366.4,72.0 367.5,71.8 368.6,71.5 369.7,71.3 370.8,71.0 371.9,70.8 373.0,70.5 374.1,70.3 375.2,70.1 376.4,69.8 377.5,69.6 378.6,69.4 379.7,69.2 380.8,68.9 381.9,68.7 383.0,68.5 384.1,68.3 385.2,68.1 386.3,67.9 387.5,67.7 388.6,67.5 389.7,67.3 390.8,67.1 391.9,66.9 393.0,66.7 394.1,66.5 395.2,66.3 396.3,66.1 397.4,65.9 398.5,65.8 399.7,65.6 400.8,65.4 401.9,65.2 403.0,65.0 404.1,64.9 405.2,64.7 406.3,64.5 407.4,64.3 408.5,64.1 409.6,64.0 410.8,63.8 411.9,63.6 413.0,63.4 414.1,63.3 415.2,63.1 416.3,62.9 417.4,62.8 418.5,62.6 419.6,62.4 420.7,62.3 421.8,62.1 423.0,61.9 424.1,61.8 425.2,61.6 426.3,61.4 427.4,61.3 428.5,61.1 429.6,61.0 430.7,60.8 431.8,60.7 432.9,60.5 434.1,60.4 435.2,60.2 436.3,60.1 437.4,59.9 438.5,59.8 439.6,59.6 440.7,59.5 441.8,59.4 442.9,59.2 444.0,59.1 445.1,58.9 446.3,58.8 447.4,58.6 448.5,58.5 449.6,58.4 450.7,58.2 451.8,58.1 452.9,57.9 454.0,57.8 455.1,57.7 456.2,57.5 457.4,57.4 458.5,57.2 459.6,57.1 460.7,57.0 461.8,56.8 462.9,56.7 464.0,56.6 465.1,56.4 466.2,56.3 467.3,56.2 468.4,56.1 469.6,56.0 470.7,55.8 471.8,55.7 472.9,55.6 474.0,55.5 475.1,55.4 476.2,55.3 477.3,55.2 478.4,55.1 479.5,55.0 480.7,54.9 481.8,54.8 482.9,54.8 484.0,54.7 485.1,54.6 486.2,54.5 487.3,54.4 488.4,54.3 489.5,54.3 490.6,54.2 491.7,54.1 492.9,54.0 494.0,53.9 495.1,53.9 496.2,53.8 497.3,53.7 498.4,53.6 499.5,53.6 500.6,53.5 501.7,53.4 502.8,53.4 504.0,53.3 505.1,53.2 506.2,53.1 507.3,53.1 508.4,53.0 509.5,52.9 510.6,52.9 511.7,52.8 512.8,52.8 513.9,52.7 515.0,52.6 516.2,52.6 517.3,52.5 518.4,52.5 519.5,52.4 520.6,52.3 521.7,52.3 522.8,52.2 523.9,52.2 525.0,52.1 526.1,52.1 527.3,52.0 528.4,52.0 529.5,51.9 530.6,51.9 531.7,51.8 532.8,51.8" fill="none" stroke="none" marker-start="url(#iMG)" marker-mid="url(#iMG)" marker-end="url(#iMG)"/>
<polyline points="265.4,129.6 266.5,128.1 267.6,126.7 268.7,125.4 269.8,124.1 271.0,122.8 272.1,121.5 273.2,120.3 274.3,119.1 275.4,117.9 276.5,116.8 277.6,115.7 278.7,114.6 279.8,113.6 280.9,112.5 282.0,111.6 283.2,110.6 284.3,109.6 285.4,108.7 286.5,107.8 287.6,106.9 288.7,106.1 289.8,105.3 290.9,104.4 292.0,103.6 293.1,102.9 294.3,102.1 295.4,101.4 296.5,100.6 297.6,99.9 298.7,99.2 299.8,98.5 300.9,97.9 302.0,97.2 303.1,96.6 304.2,95.9 305.3,95.3 306.5,94.7 307.6,94.1 308.7,93.5 309.8,93.0 310.9,92.4 312.0,91.9 313.1,91.3 314.2,90.8 315.3,90.2 316.4,89.7 317.6,89.2 318.7,88.7 319.8,88.1 320.9,87.6 322.0,87.1 323.1,86.6 324.2,86.2 325.3,85.7 326.4,85.2 327.5,84.7 328.6,84.3 329.8,83.8 330.9,83.4 332.0,82.9 333.1,82.5 334.2,82.1 335.3,81.6 336.4,81.2 337.5,80.8 338.6,80.4 339.7,80.0 340.9,79.6 342.0,79.2 343.1,78.9 344.2,78.5 345.3,78.1 346.4,77.7 347.5,77.4 348.6,77.0 349.7,76.7 350.8,76.3 351.9,76.0 353.1,75.6 354.2,75.3 355.3,75.0 356.4,74.6 357.5,74.3 358.6,74.0 359.7,73.7 360.8,73.4 361.9,73.1 363.0,72.8 364.2,72.5 365.3,72.3 366.4,72.0 367.5,71.8 368.6,71.5 369.7,71.3 370.8,71.0 371.9,70.8 373.0,70.5 374.1,70.3 375.2,70.1 376.4,69.8 377.5,69.6 378.6,69.4 379.7,69.2 380.8,68.9 381.9,68.7 383.0,68.5 384.1,68.3 385.2,68.1 386.3,67.9 387.5,67.7 388.6,67.5 389.7,67.3 390.8,67.1 391.9,66.9 393.0,66.7 394.1,66.5 395.2,66.3 396.3,66.1 397.4,65.9 398.5,65.8 399.7,65.6 400.8,65.4 401.9,65.2 403.0,65.0 404.1,64.9 405.2,64.7 406.3,64.5 407.4,64.3 408.5,64.1 409.6,64.0 410.8,63.8 411.9,63.6 413.0,63.4 414.1,63.3 415.2,63.1 416.3,62.9 417.4,62.8 418.5,62.6 419.6,62.4 420.7,62.3 421.8,62.1 423.0,61.9 424.1,61.8 425.2,61.6 426.3,61.4 427.4,61.3 428.5,61.1 429.6,61.0 430.7,60.8 431.8,60.7 432.9,60.5 434.1,60.4 435.2,60.2 436.3,60.1 437.4,59.9 438.5,59.8 439.6,59.6 440.7,59.5 441.8,59.4 442.9,59.2 444.0,59.1 445.1,58.9 446.3,58.8 447.4,58.6 448.5,58.5 449.6,58.4 450.7,58.2 451.8,58.1 452.9,57.9 454.0,57.8 455.1,57.7 456.2,57.5 457.4,57.4 458.5,57.2 459.6,57.1 460.7,57.0 461.8,56.8 462.9,56.7 464.0,56.6 465.1,56.4 466.2,56.3 467.3,56.2 468.4,56.1 469.6,56.0 470.7,55.8 471.8,55.7 472.9,55.6 474.0,55.5 475.1,55.4 476.2,55.3 477.3,55.2 478.4,55.1 479.5,55.0 480.7,54.9 481.8,54.8 482.9,54.8 484.0,54.7 485.1,54.6 486.2,54.5 487.3,54.4 488.4,54.3 489.5,54.3 490.6,54.2 491.7,54.1 492.9,54.0 494.0,53.9 495.1,53.9 496.2,53.8 497.3,53.7 498.4,53.6 499.5,53.6 500.6,53.5 501.7,53.4 502.8,53.4 504.0,53.3 505.1,53.2 506.2,53.1 507.3,53.1 508.4,53.0 509.5,52.9 510.6,52.9 511.7,52.8 512.8,52.8 513.9,52.7 515.0,52.6 516.2,52.6 517.3,52.5 518.4,52.5 519.5,52.4 520.6,52.3 521.7,52.3 522.8,52.2 523.9,52.2 525.0,52.1 526.1,52.1 527.3,52.0 528.4,52.0 529.5,51.9 530.6,51.9 531.7,51.8 532.8,51.8" fill="none" stroke="#000080" stroke-width="2" stroke-linejoin="round"/>
<polyline points="66.8,63.4 67.9,64.0 69.0,64.7 70.1,65.4 71.2,66.1 72.3,66.8 73.5,67.5 74.6,68.3 75.7,69.0 76.8,69.8 77.9,70.6 79.0,71.4 80.1,72.2 81.2,73.1 82.3,73.9 83.4,74.8 84.6,75.7 85.7,76.6 86.8,77.5 87.9,78.5 89.0,79.4 90.1,80.4 91.2,81.4 92.3,82.4 93.4,83.5 94.5,84.5 95.6,85.6 96.8,86.7 97.9,87.8 99.0,88.9 100.1,90.1 101.2,91.2 102.3,92.4 103.4,93.7 104.5,94.9 105.6,96.2 106.7,97.5 107.9,98.9 109.0,100.2 110.1,101.7 111.2,103.1 112.3,104.6 113.4,106.1 114.5,107.7 115.6,109.4 116.7,111.0 117.8,112.8 118.9,114.5 120.1,116.4 121.2,118.3 122.3,120.2 123.4,122.3 124.5,124.4 125.6,126.6 126.7,128.8 127.8,131.2 128.9,133.6 130.0,136.2 131.2,138.8 132.3,141.6 133.4,144.5 134.5,147.5 135.6,150.7 136.7,154.0 137.8,157.5 138.9,161.2 140.0,165.1 141.1,169.2 142.2,173.6 143.4,178.3 144.5,183.3 145.6,188.7 146.7,194.5 147.8,200.8 148.9,207.7 150.0,215.2 151.1,223.6 152.2,233.0 153.1,243.4 153.6,254.9 154.2,267.1 155.8,278.7 157.8,286.6 159.0,286.3 160.9,275.9 162.1,263.0 162.7,250.8 163.3,240.0 164.4,230.5 165.5,222.2 166.7,214.8 167.8,208.1 168.9,202.2 170.0,196.7 171.1,191.7 172.2,187.1 173.3,182.8 174.4,178.9 175.5,175.1 176.6,171.6 177.8,168.4 178.9,165.2 180.0,162.3 181.1,159.5 182.2,156.8 183.3,154.3 184.4,151.9 185.5,149.6 186.6,147.3 187.7,145.2 188.8,143.2 190.0,141.2 191.1,139.3 192.2,137.5 193.3,135.7 194.4,134.1 195.5,132.5 196.6,130.9 197.7,129.4 198.8,128.0 199.9,126.6 201.1,125.3 202.2,124.0 203.3,122.7 204.4,121.5 205.5,120.4 206.6,119.2 207.7,118.1 208.8,117.0 209.9,115.9 211.0,114.8 212.1,113.8 213.3,112.8 214.4,111.8 215.5,110.8 216.6,109.8 217.7,108.8 218.8,107.8 219.9,106.9 221.0,106.0 222.1,105.1 223.2,104.2 224.4,103.4 225.5,102.5 226.6,101.7 227.7,100.9 228.8,100.1 229.9,99.3 231.0,98.6 232.1,97.8 233.2,97.1 234.3,96.4 235.4,95.7 236.6,95.0 237.7,94.4 238.8,93.7 239.9,93.1 241.0,92.5 242.1,91.9 243.2,91.3 244.3,90.8 245.4,90.2 246.5,89.6 247.7,89.1 248.8,88.6 249.9,88.1 251.0,87.5 252.1,87.0 253.2,86.6 254.3,86.1 255.4,85.6 256.5,85.1 257.6,84.7 258.7,84.2 259.9,83.8 261.0,83.3 262.1,82.9 263.2,82.5 264.3,82.0 265.4,81.6 266.5,81.2 267.6,80.8 268.7,80.4 269.8,80.0 271.0,79.6 272.1,79.2 273.2,78.8 274.3,78.4 275.4,78.0 276.5,77.6 277.6,77.3 278.7,76.9 279.8,76.5 280.9,76.2 282.0,75.8 283.2,75.5 284.3,75.1 285.4,74.8 286.5,74.4 287.6,74.1 288.7,73.8 289.8,73.4 290.9,73.1 292.0,72.8 293.1,72.5 294.3,72.2 295.4,71.9 296.5,71.5 297.6,71.2 298.7,70.9 299.8,70.6 300.9,70.3 302.0,70.0 303.1,69.7 304.2,69.4 305.3,69.2 306.5,68.9 307.6,68.6 308.7,68.3 309.8,68.1 310.9,67.8 312.0,67.6 313.1,67.3 314.2,67.1 315.3,66.8 316.4,66.6 317.6,66.4 318.7,66.2 319.8,66.0 320.9,65.8 322.0,65.6 323.1,65.4 324.2,65.2 325.3,65.1 326.4,64.9 327.5,64.7 328.6,64.6 329.8,64.4 330.9,64.2 332.0,64.1 333.1,63.9 334.2,63.8 335.3,63.6 336.4,63.5 337.5,63.3 338.6,63.2 339.7,63.0 340.9,62.9 342.0,62.8 343.1,62.6 344.2,62.5 345.3,62.4 346.4,62.2 347.5,62.1 348.6,62.0 349.7,61.8 350.8,61.7 351.9,61.6 353.1,61.4 354.2,61.3 355.3,61.2 356.4,61.0 357.5,60.9 358.6,60.8 359.7,60.6 360.8,60.5 361.9,60.4 363.0,60.2 364.2,60.1 365.3,60.0 366.4,59.8 367.5,59.7 368.6,59.6 369.7,59.4 370.8,59.3 371.9,59.1 373.0,59.0 374.1,58.9 375.2,58.7 376.4,58.6 377.5,58.4 378.6,58.3 379.7,58.2 380.8,58.0 381.9,57.9 383.0,57.7 384.1,57.6 385.2,57.5 386.3,57.3 387.5,57.2 388.6,57.1 389.7,56.9 390.8,56.8 391.9,56.7 393.0,56.6 394.1,56.4 395.2,56.3 396.3,56.2 397.4,56.1 398.5,55.9 399.7,55.8 400.8,55.7 401.9,55.6 403.0,55.5 404.1,55.4 405.2,55.3 406.3,55.1 407.4,55.0 408.5,54.9 409.6,54.8 410.8,54.7 411.9,54.6 413.0,54.5 414.1,54.4 415.2,54.3 416.3,54.2 417.4,54.1 418.5,54.0 419.6,53.9 420.7,53.8 421.8,53.7 423.0,53.6 424.1,53.5 425.2,53.4 426.3,53.3 427.4,53.2 428.5,53.1 429.6,53.0 430.7,52.9 431.8,52.8 432.9,52.7 434.1,52.6 435.2,52.5 436.3,52.4 437.4,52.3 438.5,52.2 439.6,52.1 440.7,52.0 441.8,51.9 442.9,51.8 444.0,51.7 445.1,51.6 446.3,51.5 447.4,51.4 448.5,51.3 449.6,51.2 450.7,51.1 451.8,51.0 452.9,50.9 454.0,50.8 455.1,50.7 456.2,50.6 457.4,50.6 458.5,50.5 459.6,50.4 460.7,50.3 461.8,50.3 462.9,50.2 464.0,50.1 465.1,50.1 466.2,50.0 467.3,49.9 468.4,49.9 469.6,49.8 470.7,49.7 471.8,49.7 472.9,49.6 474.0,49.5 475.1,49.5 476.2,49.4 477.3,49.3 478.4,49.3 479.5,49.2 480.7,49.1 481.8,49.1 482.9,49.0 484.0,49.0 485.1,48.9 486.2,48.9 487.3,48.8 488.4,48.7 489.5,48.7 490.6,48.6 491.7,48.6 492.9,48.5 494.0,48.5 495.1,48.4 496.2,48.4 497.3,48.3 498.4,48.3 499.5,48.2 500.6,48.2 501.7,48.1 502.8,48.1 504.0,48.0 505.1,48.0 506.2,47.9 507.3,47.9 508.4,47.8 509.5,47.8 510.6,47.8 511.7,47.7 512.8,47.7 513.9,47.6 515.0,47.6 516.2,47.5 517.3,47.5 518.4,47.5 519.5,47.4 520.6,47.4 521.7,47.4 522.8,47.3 523.9,47.3 525.0,47.2 526.1,47.2 527.3,47.2 528.4,47.1 529.5,47.1 530.6,47.1 531.7,47.1 532.8,47.0" fill="none" stroke="#100" stroke-width="1.9" stroke-linejoin="round"/>
<polyline points="66.8,63.4 67.9,64.0 69.0,64.7 70.1,65.4 71.2,66.1 72.3,66.8 73.5,67.5 74.6,68.3 75.7,69.0 76.8,69.8 77.9,70.6 79.0,71.4 80.1,72.2 81.2,73.1 82.3,73.9 83.4,74.8 84.6,75.7 85.7,76.6 86.8,77.5 87.9,78.5 89.0,79.4 90.1,80.4 91.2,81.4 92.3,82.4 93.4,83.5 94.5,84.5 95.6,85.6 96.8,86.7 97.9,87.8 99.0,88.9 100.1,90.1 101.2,91.2 102.3,92.4 103.4,93.7 104.5,94.9 105.6,96.2 106.7,97.5 107.9,98.9 109.0,100.2 110.1,101.7 111.2,103.1 112.3,104.6 113.4,106.1 114.5,107.7 115.6,109.4 116.7,111.0 117.8,112.8 118.9,114.5 120.1,116.4 121.2,118.3 122.3,120.2 123.4,122.3 124.5,124.4 125.6,126.6 126.7,128.8 127.8,131.2 128.9,133.6 130.0,136.2 131.2,138.8 132.3,141.6 133.4,144.5 134.5,147.5 135.6,150.7 136.7,154.0 137.8,157.5 138.9,161.2 140.0,165.1 141.1,169.2" fill="none" stroke="none" marker-start="url(#oDI)" marker-mid="url(#oDI)" marker-end="url(#oDI)"/>
<polyline points="66.8,63.4 67.9,64.0 69.0,64.7 70.1,65.4 71.2,66.1 72.3,66.8 73.5,67.5 74.6,68.3 75.7,69.0 76.8,69.8 77.9,70.6 79.0,71.4 80.1,72.2 81.2,73.1 82.3,73.9 83.4,74.8 84.6,75.7 85.7,76.6 86.8,77.5 87.9,78.5 89.0,79.4 90.1,80.4 91.2,81.4 92.3,82.4 93.4,83.5 94.5,84.5 95.6,85.6 96.8,86.7 97.9,87.8 99.0,88.9 100.1,90.1 101.2,91.2 102.3,92.4 103.4,93.7 104.5,94.9 105.6,96.2 106.7,97.5 107.9,98.9 109.0,100.2 110.1,101.7 111.2,103.1 112.3,104.6 113.4,106.1 114.5,107.7 115.6,109.4 116.7,111.0 117.8,112.8 118.9,114.5 120.1,116.4 121.2,118.3 122.3,120.2 123.4,122.3 124.5,124.4 125.6,126.6 126.7,128.8 127.8,131.2 128.9,133.6 130.0,136.2 131.2,138.8 132.3,141.6 133.4,144.5 134.5,147.5 135.6,150.7 136.7,154.0 137.8,157.5 138.9,161.2 140.0,165.1 141.1,169.2" fill="none" stroke="none" marker-start="url(#iDI)" marker-mid="url(#iDI)" marker-end="url(#iDI)"/>
<polyline points="66.8,63.4 67.9,64.0 69.0,64.7 70.1,65.4 71.2,66.1 72.3,66.8 73.5,67.5 74.6,68.3 75.7,69.0 76.8,69.8 77.9,70.6 79.0,71.4 80.1,72.2 81.2,73.1 82.3,73.9 83.4,74.8 84.6,75.7 85.7,76.6 86.8,77.5 87.9,78.5 89.0,79.4 90.1,80.4 91.2,81.4 92.3,82.4 93.4,83.5 94.5,84.5 95.6,85.6 96.8,86.7 97.9,87.8 99.0,88.9 100.1,90.1 101.2,91.2 102.3,92.4 103.4,93.7 104.5,94.9 105.6,96.2 106.7,97.5 107.9,98.9 109.0,100.2 110.1,101.7 111.2,103.1 112.3,104.6 113.4,106.1 114.5,107.7 115.6,109.4 116.7,111.0 117.8,112.8 118.9,114.5 120.1,116.4 121.2,118.3 122.3,120.2 123.4,122.3 124.5,124.4 125.6,126.6 126.7,128.8 127.8,131.2 128.9,133.6 130.0,136.2 131.2,138.8 132.3,141.6 133.4,144.5 134.5,147.5 135.6,150.7 136.7,154.0 137.8,157.5 138.9,161.2 140.0,165.1 141.1,169.2 142.2,173.6" fill="none" stroke="#8000ff" stroke-width="2" stroke-linejoin="round"/>
<polyline points="142.2,173.6 143.4,178.3 144.5,183.3 145.6,188.7 146.7,194.5 147.8,200.8 148.9,207.7 150.0,215.2 151.1,223.6 152.2,233.0 153.1,243.4 153.6,254.9 154.2,267.1 155.8,278.7" fill="none" stroke="none" marker-start="url(#sDI)" marker-mid="url(#sDI)" marker-end="url(#sDI)"/>
<polyline points="157.8,286.6 159.0,286.3" fill="none" stroke="none" marker-start="url(#oDI)" marker-mid="url(#oDI)" marker-end="url(#oDI)"/>
<polyline points="157.8,286.6 159.0,286.3" fill="none" stroke="none" marker-start="url(#iDI)" marker-mid="url(#iDI)" marker-end="url(#iDI)"/>
<polyline points="155.8,278.7 157.8,286.6 159.0,286.3 160.9,275.9" fill="none" stroke="#8000ff" stroke-width="2" stroke-linejoin="round"/>
<polyline points="160.9,275.9 162.1,263.0 162.7,250.8 163.3,240.0 164.4,230.5 165.5,222.2 166.7,214.8 167.8,208.1 168.9,202.2 170.0,196.7 171.1,191.7" fill="none" stroke="none" marker-start="url(#sDI)" marker-mid="url(#sDI)" marker-end="url(#sDI)"/>
<polyline points="172.2,187.1 173.3,182.8 174.4,178.9 175.5,175.1 176.6,171.6 177.8,168.4 178.9,165.2 180.0,162.3 181.1,159.5 182.2,156.8 183.3,154.3 184.4,151.9 185.5,149.6 186.6,147.3 187.7,145.2 188.8,143.2 190.0,141.2 191.1,139.3 192.2,137.5 193.3,135.7 194.4,134.1 195.5,132.5 196.6,130.9 197.7,129.4 198.8,128.0 199.9,126.6 201.1,125.3 202.2,124.0 203.3,122.7 204.4,121.5 205.5,120.4 206.6,119.2 207.7,118.1 208.8,117.0 209.9,115.9 211.0,114.8 212.1,113.8 213.3,112.8 214.4,111.8 215.5,110.8 216.6,109.8 217.7,108.8 218.8,107.8 219.9,106.9 221.0,106.0 222.1,105.1 223.2,104.2 224.4,103.4 225.5,102.5 226.6,101.7 227.7,100.9 228.8,100.1 229.9,99.3 231.0,98.6 232.1,97.8 233.2,97.1 234.3,96.4 235.4,95.7 236.6,95.0 237.7,94.4 238.8,93.7 239.9,93.1 241.0,92.5 242.1,91.9 243.2,91.3 244.3,90.8 245.4,90.2 246.5,89.6 247.7,89.1 248.8,88.6 249.9,88.1 251.0,87.5 252.1,87.0 253.2,86.6 254.3,86.1 255.4,85.6 256.5,85.1 257.6,84.7 258.7,84.2 259.9,83.8 261.0,83.3 262.1,82.9 263.2,82.5 264.3,82.0 265.4,81.6 266.5,81.2 267.6,80.8 268.7,80.4 269.8,80.0 271.0,79.6 272.1,79.2 273.2,78.8 274.3,78.4 275.4,78.0 276.5,77.6 277.6,77.3 278.7,76.9 279.8,76.5 280.9,76.2 282.0,75.8 283.2,75.5 284.3,75.1 285.4,74.8 286.5,74.4 287.6,74.1 288.7,73.8 289.8,73.4 290.9,73.1 292.0,72.8 293.1,72.5 294.3,72.2 295.4,71.9 296.5,71.5 297.6,71.2 298.7,70.9 299.8,70.6 300.9,70.3 302.0,70.0 303.1,69.7 304.2,69.4 305.3,69.2 306.5,68.9 307.6,68.6 308.7,68.3 309.8,68.1 310.9,67.8 312.0,67.6 313.1,67.3 314.2,67.1 315.3,66.8 316.4,66.6 317.6,66.4 318.7,66.2 319.8,66.0 320.9,65.8 322.0,65.6 323.1,65.4 324.2,65.2 325.3,65.1 326.4,64.9 327.5,64.7 328.6,64.6 329.8,64.4 330.9,64.2 332.0,64.1 333.1,63.9 334.2,63.8 335.3,63.6 336.4,63.5 337.5,63.3 338.6,63.2 339.7,63.0 340.9,62.9 342.0,62.8 343.1,62.6 344.2,62.5 345.3,62.4 346.4,62.2 347.5,62.1 348.6,62.0 349.7,61.8 350.8,61.7 351.9,61.6 353.1,61.4 354.2,61.3 355.3,61.2 356.4,61.0 357.5,60.9 358.6,60.8 359.7,60.6 360.8,60.5 361.9,60.4 363.0,60.2 364.2,60.1 365.3,60.0 366.4,59.8 367.5,59.7 368.6,59.6 369.7,59.4 370.8,59.3 371.9,59.1 373.0,59.0 374.1,58.9 375.2,58.7 376.4,58.6 377.5,58.4 378.6,58.3 379.7,58.2 380.8,58.0 381.9,57.9 383.0,57.7 384.1,57.6 385.2,57.5 386.3,57.3 387.5,57.2 388.6,57.1 389.7,56.9 390.8,56.8 391.9,56.7 393.0,56.6 394.1,56.4 395.2,56.3 396.3,56.2 397.4,56.1 398.5,55.9 399.7,55.8 400.8,55.7 401.9,55.6 403.0,55.5 404.1,55.4 405.2,55.3 406.3,55.1 407.4,55.0 408.5,54.9 409.6,54.8 410.8,54.7 411.9,54.6 413.0,54.5 414.1,54.4 415.2,54.3 416.3,54.2 417.4,54.1 418.5,54.0 419.6,53.9 420.7,53.8 421.8,53.7 423.0,53.6 424.1,53.5 425.2,53.4 426.3,53.3 427.4,53.2 428.5,53.1 429.6,53.0 430.7,52.9 431.8,52.8 432.9,52.7 434.1,52.6 435.2,52.5 436.3,52.4 437.4,52.3 438.5,52.2 439.6,52.1 440.7,52.0 441.8,51.9 442.9,51.8 444.0,51.7 445.1,51.6 446.3,51.5 447.4,51.4 448.5,51.3 449.6,51.2 450.7,51.1 451.8,51.0 452.9,50.9 454.0,50.8 455.1,50.7 456.2,50.6 457.4,50.6 458.5,50.5 459.6,50.4 460.7,50.3 461.8,50.3 462.9,50.2 464.0,50.1 465.1,50.1 466.2,50.0 467.3,49.9 468.4,49.9 469.6,49.8 470.7,49.7 471.8,49.7 472.9,49.6 474.0,49.5 475.1,49.5 476.2,49.4 477.3,49.3 478.4,49.3 479.5,49.2 480.7,49.1 481.8,49.1 482.9,49.0 484.0,49.0 485.1,48.9 486.2,48.9 487.3,48.8 488.4,48.7 489.5,48.7 490.6,48.6 491.7,48.6 492.9,48.5 494.0,48.5 495.1,48.4 496.2,48.4 497.3,48.3 498.4,48.3 499.5,48.2 500.6,48.2 501.7,48.1 502.8,48.1 504.0,48.0 505.1,48.0 506.2,47.9 507.3,47.9 508.4,47.8 509.5,47.8 510.6,47.8 511.7,47.7 512.8,47.7 513.9,47.6 515.0,47.6 516.2,47.5 517.3,47.5 518.4,47.5 519.5,47.4 520.6,47.4 521.7,47.4 522.8,47.3 523.9,47.3 525.0,47.2 526.1,47.2 527.3,47.2 528.4,47.1 529.5,47.1 530.6,47.1 531.7,47.1 532.8,47.0" fill="none" stroke="none" marker-start="url(#oDI)" marker-mid="url(#oDI)" marker-end="url(#oDI)"/>
<polyline points="172.2,187.1 173.3,182.8 174.4,178.9 175.5,175.1 176.6,171.6 177.8,168.4 178.9,165.2 180.0,162.3 181.1,159.5 182.2,156.8 183.3,154.3 184.4,151.9 185.5,149.6 186.6,147.3 187.7,145.2 188.8,143.2 190.0,141.2 191.1,139.3 192.2,137.5 193.3,135.7 194.4,134.1 195.5,132.5 196.6,130.9 197.7,129.4 198.8,128.0 199.9,126.6 201.1,125.3 202.2,124.0 203.3,122.7 204.4,121.5 205.5,120.4 206.6,119.2 207.7,118.1 208.8,117.0 209.9,115.9 211.0,114.8 212.1,113.8 213.3,112.8 214.4,111.8 215.5,110.8 216.6,109.8 217.7,108.8 218.8,107.8 219.9,106.9 221.0,106.0 222.1,105.1 223.2,104.2 224.4,103.4 225.5,102.5 226.6,101.7 227.7,100.9 228.8,100.1 229.9,99.3 231.0,98.6 232.1,97.8 233.2,97.1 234.3,96.4 235.4,95.7 236.6,95.0 237.7,94.4 238.8,93.7 239.9,93.1 241.0,92.5 242.1,91.9 243.2,91.3 244.3,90.8 245.4,90.2 246.5,89.6 247.7,89.1 248.8,88.6 249.9,88.1 251.0,87.5 252.1,87.0 253.2,86.6 254.3,86.1 255.4,85.6 256.5,85.1 257.6,84.7 258.7,84.2 259.9,83.8 261.0,83.3 262.1,82.9 263.2,82.5 264.3,82.0 265.4,81.6 266.5,81.2 267.6,80.8 268.7,80.4 269.8,80.0 271.0,79.6 272.1,79.2 273.2,78.8 274.3,78.4 275.4,78.0 276.5,77.6 277.6,77.3 278.7,76.9 279.8,76.5 280.9,76.2 282.0,75.8 283.2,75.5 284.3,75.1 285.4,74.8 286.5,74.4 287.6,74.1 288.7,73.8 289.8,73.4 290.9,73.1 292.0,72.8 293.1,72.5 294.3,72.2 295.4,71.9 296.5,71.5 297.6,71.2 298.7,70.9 299.8,70.6 300.9,70.3 302.0,70.0 303.1,69.7 304.2,69.4 305.3,69.2 306.5,68.9 307.6,68.6 308.7,68.3 309.8,68.1 310.9,67.8 312.0,67.6 313.1,67.3 314.2,67.1 315.3,66.8 316.4,66.6 317.6,66.4 318.7,66.2 319.8,66.0 320.9,65.8 322.0,65.6 323.1,65.4 324.2,65.2 325.3,65.1 326.4,64.9 327.5,64.7 328.6,64.6 329.8,64.4 330.9,64.2 332.0,64.1 333.1,63.9 334.2,63.8 335.3,63.6 336.4,63.5 337.5,63.3 338.6,63.2 339.7,63.0 340.9,62.9 342.0,62.8 343.1,62.6 344.2,62.5 345.3,62.4 346.4,62.2 347.5,62.1 348.6,62.0 349.7,61.8 350.8,61.7 351.9,61.6 353.1,61.4 354.2,61.3 355.3,61.2 356.4,61.0 357.5,60.9 358.6,60.8 359.7,60.6 360.8,60.5 361.9,60.4 363.0,60.2 364.2,60.1 365.3,60.0 366.4,59.8 367.5,59.7 368.6,59.6 369.7,59.4 370.8,59.3 371.9,59.1 373.0,59.0 374.1,58.9 375.2,58.7 376.4,58.6 377.5,58.4 378.6,58.3 379.7,58.2 380.8,58.0 381.9,57.9 383.0,57.7 384.1,57.6 385.2,57.5 386.3,57.3 387.5,57.2 388.6,57.1 389.7,56.9 390.8,56.8 391.9,56.7 393.0,56.6 394.1,56.4 395.2,56.3 396.3,56.2 397.4,56.1 398.5,55.9 399.7,55.8 400.8,55.7 401.9,55.6 403.0,55.5 404.1,55.4 405.2,55.3 406.3,55.1 407.4,55.0 408.5,54.9 409.6,54.8 410.8,54.7 411.9,54.6 413.0,54.5 414.1,54.4 415.2,54.3 416.3,54.2 417.4,54.1 418.5,54.0 419.6,53.9 420.7,53.8 421.8,53.7 423.0,53.6 424.1,53.5 425.2,53.4 426.3,53.3 427.4,53.2 428.5,53.1 429.6,53.0 430.7,52.9 431.8,52.8 432.9,52.7 434.1,52.6 435.2,52.5 436.3,52.4 437.4,52.3 438.5,52.2 439.6,52.1 440.7,52.0 441.8,51.9 442.9,51.8 444.0,51.7 445.1,51.6 446.3,51.5 447.4,51.4 448.5,51.3 449.6,51.2 450.7,51.1 451.8,51.0 452.9,50.9 454.0,50.8 455.1,50.7 456.2,50.6 457.4,50.6 458.5,50.5 459.6,50.4 460.7,50.3 461.8,50.3 462.9,50.2 464.0,50.1 465.1,50.1 466.2,50.0 467.3,49.9 468.4,49.9 469.6,49.8 470.7,49.7 471.8,49.7 472.9,49.6 474.0,49.5 475.1,49.5 476.2,49.4 477.3,49.3 478.4,49.3 479.5,49.2 480.7,49.1 481.8,49.1 482.9,49.0 484.0,49.0 485.1,48.9 486.2,48.9 487.3,48.8 488.4,48.7 489.5,48.7 490.6,48.6 491.7,48.6 492.9,48.5 494.0,48.5 495.1,48.4 496.2,48.4 497.3,48.3 498.4,48.3 499.5,48.2 500.6,48.2 501.7,48.1 502.8,48.1 504.0,48.0 505.1,48.0 506.2,47.9 507.3,47.9 508.4,47.8 509.5,47.8 510.6,47.8 511.7,47.7 512.8,47.7 513.9,47.6 515.0,47.6 516.2,47.5 517.3,47.5 518.4,47.5 519.5,47.4 520.6,47.4 521.7,47.4 522.8,47.3 523.9,47.3 525.0,47.2 526.1,47.2 527.3,47.2 528.4,47.1 529.5,47.1 530.6,47.1 531.7,47.1 532.8,47.0" fill="none" stroke="none" marker-start="url(#iDI)" marker-mid="url(#iDI)" marker-end="url(#iDI)"/>
<polyline points="171.1,191.7 172.2,187.1 173.3,182.8 174.4,178.9 175.5,175.1 176.6,171.6 177.8,168.4 178.9,165.2 180.0,162.3 181.1,159.5 182.2,156.8 183.3,154.3 184.4,151.9 185.5,149.6 186.6,147.3 187.7,145.2 188.8,143.2 190.0,141.2 191.1,139.3 192.2,137.5 193.3,135.7 194.4,134.1 195.5,132.5 196.6,130.9 197.7,129.4 198.8,128.0 199.9,126.6 201.1,125.3 202.2,124.0 203.3,122.7 204.4,121.5 205.5,120.4 206.6,119.2 207.7,118.1 208.8,117.0 209.9,115.9 211.0,114.8 212.1,113.8 213.3,112.8 214.4,111.8 215.5,110.8 216.6,109.8 217.7,108.8 218.8,107.8 219.9,106.9 221.0,106.0 222.1,105.1 223.2,104.2 224.4,103.4 225.5,102.5 226.6,101.7 227.7,100.9 228.8,100.1 229.9,99.3 231.0,98.6 232.1,97.8 233.2,97.1 234.3,96.4 235.4,95.7 236.6,95.0 237.7,94.4 238.8,93.7 239.9,93.1 241.0,92.5 242.1,91.9 243.2,91.3 244.3,90.8 245.4,90.2 246.5,89.6 247.7,89.1 248.8,88.6 249.9,88.1 251.0,87.5 252.1,87.0 253.2,86.6 254.3,86.1 255.4,85.6 256.5,85.1 257.6,84.7 258.7,84.2 259.9,83.8 261.0,83.3 262.1,82.9 263.2,82.5 264.3,82.0 265.4,81.6 266.5,81.2 267.6,80.8 268.7,80.4 269.8,80.0 271.0,79.6 272.1,79.2 273.2,78.8 274.3,78.4 275.4,78.0 276.5,77.6 277.6,77.3 278.7,76.9 279.8,76.5 280.9,76.2 282.0,75.8 283.2,75.5 284.3,75.1 285.4,74.8 286.5,74.4 287.6,74.1 288.7,73.8 289.8,73.4 290.9,73.1 292.0,72.8 293.1,72.5 294.3,72.2 295.4,71.9 296.5,71.5 297.6,71.2 298.7,70.9 299.8,70.6 300.9,70.3 302.0,70.0 303.1,69.7 304.2,69.4 305.3,69.2 306.5,68.9 307.6,68.6 308.7,68.3 309.8,68.1 310.9,67.8 312.0,67.6 313.1,67.3 314.2,67.1 315.3,66.8 316.4,66.6 317.6,66.4 318.7,66.2 319.8,66.0 320.9,65.8 322.0,65.6 323.1,65.4 324.2,65.2 325.3,65.1 326.4,64.9 327.5,64.7 328.6,64.6 329.8,64.4 330.9,64.2 332.0,64.1 333.1,63.9 334.2,63.8 335.3,63.6 336.4,63.5 337.5,63.3 338.6,63.2 339.7,63.0 340.9,62.9 342.0,62.8 343.1,62.6 344.2,62.5 345.3,62.4 346.4,62.2 347.5,62.1 348.6,62.0 349.7,61.8 350.8,61.7 351.9,61.6 353.1,61.4 354.2,61.3 355.3,61.2 356.4,61.0 357.5,60.9 358.6,60.8 359.7,60.6 360.8,60.5 361.9,60.4 363.0,60.2 364.2,60.1 365.3,60.0 366.4,59.8 367.5,59.7 368.6,59.6 369.7,59.4 370.8,59.3 371.9,59.1 373.0,59.0 374.1,58.9 375.2,58.7 376.4,58.6 377.5,58.4 378.6,58.3 379.7,58.2 380.8,58.0 381.9,57.9 383.0,57.7 384.1,57.6 385.2,57.5 386.3,57.3 387.5,57.2 388.6,57.1 389.7,56.9 390.8,56.8 391.9,56.7 393.0,56.6 394.1,56.4 395.2,56.3 396.3,56.2 397.4,56.1 398.5,55.9 399.7,55.8 400.8,55.7 401.9,55.6 403.0,55.5 404.1,55.4 405.2,55.3 406.3,55.1 407.4,55.0 408.5,54.9 409.6,54.8 410.8,54.7 411.9,54.6 413.0,54.5 414.1,54.4 415.2,54.3 416.3,54.2 417.4,54.1 418.5,54.0 419.6,53.9 420.7,53.8 421.8,53.7 423.0,53.6 424.1,53.5 425.2,53.4 426.3,53.3 427.4,53.2 428.5,53.1 429.6,53.0 430.7,52.9 431.8,52.8 432.9,52.7 434.1,52.6 435.2,52.5 436.3,52.4 437.4,52.3 438.5,52.2 439.6,52.1 440.7,52.0 441.8,51.9 442.9,51.8 444.0,51.7 445.1,51.6 446.3,51.5 447.4,51.4 448.5,51.3 449.6,51.2 450.7,51.1 451.8,51.0 452.9,50.9 454.0,50.8 455.1,50.7 456.2,50.6 457.4,50.6 458.5,50.5 459.6,50.4 460.7,50.3 461.8,50.3 462.9,50.2 464.0,50.1 465.1,50.1 466.2,50.0 467.3,49.9 468.4,49.9 469.6,49.8 470.7,49.7 471.8,49.7 472.9,49.6 474.0,49.5 475.1,49.5 476.2,49.4 477.3,49.3 478.4,49.3 479.5,49.2 480.7,49.1 481.8,49.1 482.9,49.0 484.0,49.0 485.1,48.9 486.2,48.9 487.3,48.8 488.4,48.7 489.5,48.7 490.6,48.6 491.7,48.6 492.9,48.5 494.0,48.5 495.1,48.4 496.2,48.4 497.3,48.3 498.4,48.3 499.5,48.2 500.6,48.2 501.7,48.1 502.8,48.1 504.0,48.0 505.1,48.0 506.2,47.9 507.3,47.9 508.4,47.8 509.5,47.8 510.6,47.8 511.7,47.7 512.8,47.7 513.9,47.6 515.0,47.6 516.2,47.5 517.3,47.5 518.4,47.5 519.5,47.4 520.6,47.4 521.7,47.4 522.8,47.3 523.9,47.3 525.0,47.2 526.1,47.2 527.3,47.2 528.4,47.1 529.5,47.1 530.6,47.1 531.7,47.1 532.8,47.0" fill="none" stroke="#8000ff" stroke-width="2" stroke-linejoin="round"/>
</g>
<rect x="66.8" y="11.0" width="466.0" height="323.5" fill="none" stroke="#000" stroke-width="1.8"/><path d="M66.80 334.5v7.2M66.80 11.0v7.2M95.92 334.5v4.0M95.92 11.0v4.0M125.05 334.5v7.2M125.05 11.0v7.2M154.17 334.5v4.0M154.17 11.0v4.0M183.30 334.5v7.2M183.30 11.0v7.2M212.43 334.5v4.0M212.43 11.0v4.0M241.55 334.5v7.2M241.55 11.0v7.2M270.68 334.5v4.0M270.68 11.0v4.0M299.80 334.5v7.2M299.80 11.0v7.2M328.93 334.5v4.0M328.93 11.0v4.0M358.05 334.5v7.2M358.05 11.0v7.2M387.17 334.5v4.0M387.17 11.0v4.0M416.30 334.5v7.2M416.30 11.0v7.2M445.42 334.5v4.0M445.42 11.0v4.0M474.55 334.5v7.2M474.55 11.0v7.2M503.68 334.5v4.0M503.68 11.0v4.0M532.80 334.5v7.2M532.80 11.0v7.2M66.8 10.76h-4.2M532.8 10.76h-4.2M66.8 29.80h-7.3M532.8 29.80h-7.3M66.8 48.84h-4.2M532.8 48.84h-4.2M66.8 67.89h-7.3M532.8 67.89h-7.3M66.8 86.93h-4.2M532.8 86.93h-4.2M66.8 105.97h-7.3M532.8 105.97h-7.3M66.8 125.01h-4.2M532.8 125.01h-4.2M66.8 144.06h-7.3M532.8 144.06h-7.3M66.8 163.10h-4.2M532.8 163.10h-4.2M66.8 182.14h-7.3M532.8 182.14h-7.3M66.8 201.18h-4.2M532.8 201.18h-4.2M66.8 220.23h-7.3M532.8 220.23h-7.3M66.8 239.27h-4.2M532.8 239.27h-4.2M66.8 258.31h-7.3M532.8 258.31h-7.3M66.8 277.35h-4.2M532.8 277.35h-4.2M66.8 296.40h-7.3M532.8 296.40h-7.3M66.8 315.44h-4.2M532.8 315.44h-4.2M66.8 334.48h-7.3M532.8 334.48h-7.3" stroke="#000" stroke-width="1.6" fill="none"/>
<g class="tl">
<text x="55.3" y="33.6" text-anchor="end">0</text>
<text x="55.3" y="71.7" text-anchor="end">-5</text>
<text x="55.3" y="109.8" text-anchor="end">-10</text>
<text x="55.3" y="147.9" text-anchor="end">-15</text>
<text x="55.3" y="185.9" text-anchor="end">-20</text>
<text x="55.3" y="224.0" text-anchor="end">-25</text>
<text x="55.3" y="262.1" text-anchor="end">-30</text>
<text x="55.3" y="300.2" text-anchor="end">-35</text>
<text x="55.3" y="338.3" text-anchor="end">-40</text>
<text x="66.8" y="355.8" text-anchor="middle">2.0</text>
<text x="125.1" y="355.8" text-anchor="middle">2.1</text>
<text x="183.3" y="355.8" text-anchor="middle">2.2</text>
<text x="241.5" y="355.8" text-anchor="middle">2.3</text>
<text x="299.8" y="355.8" text-anchor="middle">2.4</text>
<text x="358.1" y="355.8" text-anchor="middle">2.5</text>
<text x="416.3" y="355.8" text-anchor="middle">2.6</text>
<text x="474.6" y="355.8" text-anchor="middle">2.7</text>
<text x="532.8" y="355.8" text-anchor="middle">2.8</text>
</g>
<text class="at" x="234.6" y="381.2" style="font-size:16px" textLength="130.6" lengthAdjust="spacingAndGlyphs">Frequency (GHz)</text>
<text class="at" transform="translate(23.4 216.6) rotate(-90)" style="font-size:16.5px" textLength="65.3" lengthAdjust="spacingAndGlyphs">S21 (dB)</text>
<g class="lg">
<polyline points="390,222.6 406,222.6 422,222.6" fill="none" stroke="#000" stroke-width="2.4" marker-mid="url(#lWT)"/>
<text x="425.7" y="227.3">Without Tube</text>
<polyline points="390,238.4 406,238.4 422,238.4" fill="none" stroke="#200" stroke-width="2.4" marker-mid="url(#lAIR)"/>
<text x="425.7" y="243.1">Air (Empty tube)</text>
<polyline points="390,254.3 406,254.3 422,254.3" fill="none" stroke="#000" stroke-width="2.4" marker-mid="url(#lTUR)"/>
<text x="425.7" y="259.0">Turmeric</text>
<polyline points="390,270.1 406,270.1 422,270.1" fill="none" stroke="#301" stroke-width="2.4" marker-mid="url(#lJAVA)"/>
<text x="425.7" y="274.8">Java Turmeric</text>
<polyline points="390,286.0 406,286.0 422,286.0" fill="none" stroke="#021" stroke-width="2.4" marker-mid="url(#lBT)"/>
<text x="425.7" y="290.7">Black Turmeric</text>
<polyline points="390,301.9 406,301.9 422,301.9" fill="none" stroke="#000" stroke-width="2.4" marker-mid="url(#lMG)"/>
<text x="425.7" y="306.6">Mango Ginger</text>
<polyline points="390,317.7 406,317.7 422,317.7" fill="none" stroke="#001" stroke-width="2.4" marker-mid="url(#lDI)"/>
<text x="425.7" y="322.4">DI Water</text>
</g>
</g>
</svg>
</body></html>
